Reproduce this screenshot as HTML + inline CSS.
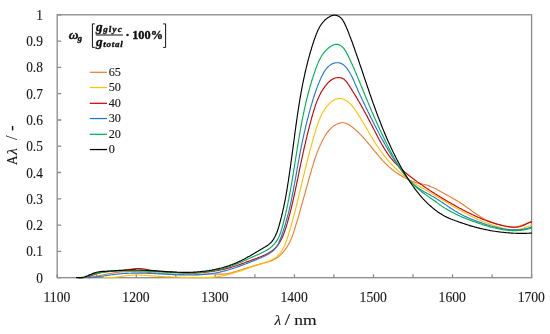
<!DOCTYPE html>
<html><head><meta charset="utf-8"><title>chart</title>
<style>html,body{margin:0;padding:0;background:#fff}body{width:550px;height:334px;position:relative;overflow:hidden}</style>
</head><body>
<svg width="550" height="334" viewBox="0 0 550 334" style="position:absolute;left:0;top:0">
<g fill="none" stroke="#8a8a8a" stroke-width="1.3">
<rect x="57.2" y="14.8" width="474.40000000000003" height="262.9"/>
<path d="M57.2,277.7h4 M57.2,251.4h4 M57.2,225.1h4 M57.2,198.8h4 M57.2,172.5h4 M57.2,146.2h4 M57.2,120.0h4 M57.2,93.7h4 M57.2,67.4h4 M57.2,41.1h4 M57.2,14.8h4 M57.2,277.7v-3.5 M96.7,277.7v-3.5 M136.3,277.7v-3.5 M175.8,277.7v-3.5 M215.3,277.7v-3.5 M254.9,277.7v-3.5 M294.4,277.7v-3.5 M333.9,277.7v-3.5 M373.5,277.7v-3.5 M413.0,277.7v-3.5 M452.5,277.7v-3.5 M492.1,277.7v-3.5 M531.6,277.7v-3.5 "/>
</g>
<g fill="none" stroke-width="1.15" stroke-linejoin="round" stroke-linecap="round">
<path stroke="#ED7D31" d="M86.0,277.6 L86.7,277.6 L87.4,277.5 L88.1,277.4 L88.8,277.4 L89.5,277.3 L90.3,277.2 L91.0,277.1 L91.7,277.0 L92.4,276.9 L93.1,276.8 L93.8,276.7 L94.5,276.5 L95.2,276.4 L95.9,276.3 L96.6,276.2 L97.3,276.0 L98.0,275.9 L98.7,275.8 L99.4,275.6 L100.1,275.5 L100.8,275.3 L101.6,275.2 L102.3,275.0 L103.0,274.9 L103.7,274.8 L104.4,274.6 L105.1,274.5 L105.8,274.3 L106.5,274.2 L107.2,274.0 L107.9,273.9 L108.7,273.8 L109.4,273.6 L110.1,273.5 L110.8,273.4 L111.5,273.2 L112.2,273.1 L112.9,273.0 L113.6,272.9 L114.4,272.8 L115.1,272.6 L115.8,272.5 L116.5,272.4 L117.2,272.3 L117.9,272.3 L118.6,272.2 L119.3,272.1 L120.1,272.0 L120.8,272.0 L121.5,271.9 L122.2,271.8 L122.9,271.8 L123.6,271.7 L124.3,271.7 L125.1,271.7 L125.8,271.6 L126.5,271.6 L127.2,271.6 L127.9,271.6 L128.6,271.6 L129.3,271.5 L130.1,271.5 L130.8,271.5 L131.5,271.5 L132.2,271.6 L132.9,271.6 L133.6,271.6 L134.3,271.6 L135.1,271.6 L135.8,271.6 L136.5,271.7 L137.2,271.7 L137.9,271.7 L138.6,271.8 L139.4,271.8 L140.1,271.8 L140.8,271.9 L141.5,271.9 L142.2,272.0 L142.9,272.0 L143.7,272.1 L144.4,272.1 L145.1,272.2 L145.8,272.2 L146.5,272.3 L147.2,272.3 L148.0,272.4 L148.7,272.5 L149.4,272.5 L150.1,272.6 L150.8,272.6 L151.5,272.7 L152.3,272.8 L153.0,272.8 L153.7,272.9 L154.4,272.9 L155.1,273.0 L155.8,273.1 L156.6,273.1 L157.3,273.2 L158.0,273.2 L158.7,273.3 L159.4,273.4 L160.1,273.4 L160.9,273.5 L161.6,273.5 L162.3,273.6 L163.0,273.6 L163.7,273.7 L164.4,273.7 L165.2,273.8 L165.9,273.8 L166.6,273.9 L167.3,273.9 L168.0,273.9 L168.7,274.0 L169.5,274.0 L170.2,274.0 L170.9,274.1 L171.6,274.1 L172.3,274.1 L173.1,274.1 L173.8,274.2 L174.5,274.2 L175.2,274.2 L175.9,274.2 L176.6,274.2 L177.4,274.2 L178.1,274.2 L178.8,274.2 L179.5,274.2 L180.2,274.2 L181.0,274.3 L181.7,274.3 L182.4,274.3 L183.1,274.3 L183.8,274.3 L184.5,274.2 L185.3,274.2 L186.0,274.2 L186.7,274.2 L187.4,274.2 L188.1,274.2 L188.8,274.2 L189.6,274.2 L190.3,274.2 L191.0,274.2 L191.7,274.2 L192.4,274.2 L193.2,274.2 L193.9,274.1 L194.6,274.1 L195.3,274.1 L196.0,274.1 L196.7,274.1 L197.5,274.1 L198.2,274.1 L198.9,274.1 L199.6,274.1 L200.3,274.0 L201.1,274.0 L201.8,274.0 L202.5,274.0 L203.2,274.0 L203.9,274.0 L204.6,274.0 L205.4,274.0 L206.1,274.0 L206.8,274.0 L207.5,274.0 L208.2,274.0 L208.9,274.0 L209.7,274.0 L210.4,274.0 L211.1,274.0 L211.8,274.0 L212.5,274.0 L213.3,274.0 L214.0,274.0 L214.7,274.0 L215.4,274.0 L216.1,274.1 L216.8,274.1 L217.6,274.1 L218.3,274.1 L219.0,274.1 L219.7,274.1 L220.4,274.1 L221.1,274.1 L221.8,274.1 L222.6,274.1 L223.3,274.1 L224.0,274.0 L224.7,274.0 L225.4,273.9 L226.1,273.9 L226.8,273.8 L227.5,273.7 L228.2,273.5 L228.9,273.4 L229.6,273.3 L230.3,273.1 L231.0,272.9 L231.7,272.7 L232.4,272.5 L233.0,272.3 L233.7,272.1 L234.4,271.9 L235.1,271.7 L235.8,271.5 L236.5,271.2 L237.2,271.0 L237.9,270.8 L238.5,270.6 L239.2,270.4 L239.9,270.2 L240.6,270.0 L241.3,269.7 L242.0,269.5 L242.6,269.3 L243.3,269.1 L244.0,268.9 L244.7,268.7 L245.4,268.4 L246.1,268.2 L246.8,268.0 L247.4,267.8 L248.1,267.6 L248.8,267.4 L249.5,267.2 L250.2,267.0 L250.9,266.8 L251.6,266.5 L252.2,266.3 L252.9,266.1 L253.6,265.9 L254.3,265.7 L255.0,265.5 L255.7,265.3 L256.4,265.1 L257.1,264.9 L257.8,264.7 L258.5,264.5 L259.1,264.3 L259.8,264.1 L260.5,263.9 L261.2,263.7 L261.9,263.6 L262.6,263.4 L263.3,263.2 L264.0,263.0 L264.7,262.8 L265.4,262.6 L266.1,262.4 L266.8,262.2 L267.5,262.0 L268.2,261.8 L268.9,261.6 L269.6,261.4 L270.2,261.1 L270.9,260.9 L271.6,260.6 L272.2,260.4 L272.9,260.1 L273.5,259.8 L274.1,259.5 L274.8,259.1 L275.4,258.8 L276.0,258.4 L276.6,258.0 L277.2,257.6 L277.8,257.2 L278.3,256.8 L278.9,256.4 L279.4,255.9 L280.0,255.4 L280.5,254.9 L281.0,254.4 L281.6,253.9 L282.1,253.4 L282.5,252.9 L283.0,252.3 L283.5,251.8 L284.0,251.2 L284.4,250.6 L284.9,250.0 L285.3,249.4 L285.7,248.8 L286.2,248.2 L286.6,247.6 L287.0,247.0 L287.3,246.4 L287.7,245.8 L288.1,245.1 L288.4,244.5 L288.8,243.9 L289.1,243.2 L289.5,242.6 L289.8,241.9 L290.1,241.3 L290.4,240.6 L290.7,240.0 L291.0,239.3 L291.3,238.7 L291.5,238.0 L291.8,237.4 L292.1,236.7 L292.3,236.0 L292.6,235.4 L292.8,234.7 L293.0,234.0 L293.3,233.4 L293.5,232.7 L293.7,232.0 L294.0,231.3 L294.2,230.7 L294.4,230.0 L294.6,229.3 L294.8,228.6 L295.0,227.9 L295.2,227.3 L295.4,226.6 L295.6,225.9 L295.8,225.2 L296.0,224.5 L296.2,223.8 L296.4,223.2 L296.7,222.5 L296.9,221.8 L297.1,221.1 L297.3,220.4 L297.5,219.7 L297.7,219.0 L297.9,218.3 L298.1,217.7 L298.3,217.0 L298.5,216.3 L298.7,215.6 L298.9,214.9 L299.1,214.2 L299.3,213.5 L299.5,212.8 L299.7,212.1 L299.9,211.4 L300.1,210.7 L300.3,210.1 L300.5,209.4 L300.6,208.7 L300.8,208.0 L301.0,207.3 L301.2,206.6 L301.4,205.9 L301.6,205.2 L301.8,204.5 L302.0,203.8 L302.2,203.1 L302.4,202.4 L302.6,201.7 L302.8,201.0 L303.0,200.3 L303.2,199.6 L303.4,198.9 L303.6,198.2 L303.8,197.5 L304.0,196.9 L304.2,196.2 L304.4,195.5 L304.6,194.8 L304.8,194.1 L305.0,193.4 L305.1,192.7 L305.3,192.0 L305.5,191.3 L305.7,190.6 L305.9,189.9 L306.1,189.2 L306.3,188.5 L306.5,187.8 L306.7,187.1 L306.9,186.4 L307.1,185.7 L307.3,185.0 L307.5,184.3 L307.7,183.7 L307.9,183.0 L308.1,182.3 L308.2,181.6 L308.4,180.9 L308.6,180.2 L308.8,179.5 L309.0,178.8 L309.2,178.1 L309.4,177.4 L309.6,176.7 L309.8,176.0 L310.0,175.4 L310.2,174.7 L310.4,174.0 L310.6,173.3 L310.8,172.6 L311.0,171.9 L311.2,171.2 L311.4,170.5 L311.5,169.9 L311.7,169.2 L311.9,168.5 L312.1,167.8 L312.3,167.1 L312.5,166.4 L312.8,165.7 L313.0,165.1 L313.2,164.4 L313.4,163.7 L313.6,163.0 L313.8,162.3 L314.0,161.7 L314.2,161.0 L314.4,160.3 L314.7,159.6 L314.9,158.9 L315.1,158.3 L315.3,157.6 L315.6,156.9 L315.8,156.2 L316.0,155.6 L316.3,154.9 L316.5,154.2 L316.8,153.6 L317.0,152.9 L317.3,152.2 L317.5,151.5 L317.8,150.9 L318.1,150.2 L318.3,149.5 L318.6,148.9 L318.9,148.2 L319.2,147.5 L319.5,146.9 L319.8,146.2 L320.0,145.6 L320.3,144.9 L320.7,144.2 L321.0,143.6 L321.3,142.9 L321.6,142.3 L321.9,141.6 L322.3,141.0 L322.6,140.3 L322.9,139.6 L323.3,139.0 L323.6,138.3 L324.0,137.7 L324.4,137.0 L324.7,136.4 L325.1,135.8 L325.5,135.1 L325.9,134.5 L326.3,133.9 L326.7,133.3 L327.2,132.7 L327.6,132.1 L328.0,131.5 L328.5,131.0 L328.9,130.4 L329.4,129.9 L329.9,129.3 L330.4,128.8 L330.9,128.3 L331.4,127.8 L331.9,127.3 L332.5,126.9 L333.0,126.5 L333.6,126.0 L334.2,125.6 L334.8,125.2 L335.4,124.9 L336.0,124.5 L336.7,124.2 L337.3,123.9 L338.0,123.7 L338.6,123.4 L339.3,123.2 L340.0,123.0 L340.7,122.9 L341.4,122.8 L342.1,122.7 L342.8,122.7 L343.5,122.8 L344.1,122.9 L344.8,123.0 L345.5,123.2 L346.1,123.4 L346.8,123.7 L347.4,124.0 L348.0,124.3 L348.7,124.6 L349.3,125.0 L349.9,125.4 L350.5,125.8 L351.1,126.2 L351.7,126.7 L352.3,127.1 L352.9,127.5 L353.4,128.0 L354.0,128.4 L354.5,128.9 L355.1,129.4 L355.6,129.9 L356.2,130.3 L356.7,130.8 L357.2,131.3 L357.8,131.8 L358.3,132.3 L358.8,132.8 L359.3,133.3 L359.8,133.8 L360.3,134.4 L360.8,134.9 L361.3,135.4 L361.8,135.9 L362.3,136.4 L362.8,137.0 L363.3,137.5 L363.8,138.0 L364.2,138.6 L364.7,139.1 L365.2,139.7 L365.7,140.2 L366.1,140.8 L366.6,141.3 L367.1,141.9 L367.5,142.4 L368.0,143.0 L368.5,143.5 L368.9,144.1 L369.4,144.6 L369.8,145.2 L370.3,145.7 L370.8,146.3 L371.2,146.8 L371.7,147.4 L372.1,148.0 L372.6,148.5 L373.0,149.1 L373.5,149.6 L373.9,150.2 L374.4,150.8 L374.9,151.3 L375.3,151.9 L375.8,152.4 L376.2,153.0 L376.7,153.5 L377.1,154.1 L377.6,154.6 L378.1,155.2 L378.5,155.7 L379.0,156.3 L379.5,156.8 L379.9,157.4 L380.4,157.9 L380.9,158.4 L381.4,159.0 L381.8,159.5 L382.3,160.0 L382.8,160.6 L383.3,161.1 L383.8,161.6 L384.3,162.1 L384.7,162.6 L385.2,163.2 L385.7,163.7 L386.2,164.2 L386.7,164.7 L387.3,165.2 L387.8,165.7 L388.3,166.1 L388.8,166.6 L389.3,167.1 L389.9,167.6 L390.4,168.1 L390.9,168.5 L391.5,169.0 L392.0,169.4 L392.6,169.9 L393.1,170.3 L393.7,170.8 L394.3,171.2 L394.8,171.6 L395.4,172.1 L396.0,172.5 L396.6,172.9 L397.2,173.3 L397.8,173.7 L398.4,174.1 L399.0,174.5 L399.6,174.9 L400.3,175.2 L400.9,175.6 L401.5,176.0 L402.2,176.3 L402.8,176.7 L403.5,177.0 L404.1,177.4 L404.7,177.7 L405.4,178.0 L406.0,178.4 L406.7,178.7 L407.3,179.0 L408.0,179.3 L408.6,179.6 L409.3,180.0 L409.9,180.3 L410.6,180.5 L411.3,180.8 L411.9,181.1 L412.6,181.4 L413.2,181.6 L413.9,181.9 L414.6,182.1 L415.3,182.4 L415.9,182.6 L416.6,182.8 L417.3,183.0 L418.0,183.1 L418.7,183.3 L419.4,183.5 L420.1,183.6 L420.8,183.7 L421.5,183.9 L422.2,184.0 L422.9,184.2 L423.6,184.3 L424.3,184.5 L425.0,184.6 L425.7,184.8 L426.4,185.0 L427.1,185.2 L427.8,185.4 L428.5,185.6 L429.1,185.9 L429.8,186.1 L430.5,186.4 L431.1,186.7 L431.8,187.0 L432.4,187.2 L433.1,187.5 L433.7,187.8 L434.4,188.2 L435.0,188.5 L435.7,188.8 L436.3,189.1 L436.9,189.5 L437.6,189.8 L438.2,190.2 L438.8,190.5 L439.4,190.8 L440.1,191.2 L440.7,191.5 L441.3,191.9 L442.0,192.3 L442.6,192.6 L443.2,193.0 L443.8,193.3 L444.5,193.7 L445.1,194.0 L445.7,194.4 L446.4,194.7 L447.0,195.1 L447.6,195.4 L448.2,195.7 L448.9,196.1 L449.5,196.4 L450.1,196.8 L450.7,197.1 L451.4,197.5 L452.0,197.8 L452.6,198.2 L453.2,198.6 L453.9,198.9 L454.5,199.3 L455.1,199.6 L455.7,200.0 L456.3,200.4 L457.0,200.7 L457.6,201.1 L458.2,201.5 L458.8,201.8 L459.4,202.2 L460.0,202.6 L460.6,203.0 L461.2,203.4 L461.8,203.8 L462.4,204.2 L463.0,204.6 L463.6,205.0 L464.2,205.4 L464.8,205.8 L465.4,206.2 L466.0,206.7 L466.6,207.1 L467.2,207.5 L467.7,207.9 L468.3,208.3 L468.9,208.8 L469.5,209.2 L470.1,209.6 L470.7,210.0 L471.3,210.5 L471.8,210.9 L472.4,211.3 L473.0,211.7 L473.6,212.2 L474.2,212.6 L474.8,213.0 L475.4,213.4 L476.0,213.8 L476.6,214.2 L477.2,214.6 L477.8,215.0 L478.4,215.4 L479.0,215.8 L479.6,216.2 L480.2,216.6 L480.8,216.9 L481.4,217.3 L482.0,217.7 L482.6,218.0 L483.2,218.4 L483.8,218.7 L484.5,219.0 L485.1,219.4 L485.7,219.7 L486.4,220.0 L487.0,220.3 L487.7,220.6 L488.3,220.9 L489.0,221.2 L489.6,221.4 L490.3,221.7 L490.9,222.0 L491.6,222.2 L492.3,222.5 L492.9,222.7 L493.6,223.0 L494.3,223.2 L495.0,223.4 L495.6,223.7 L496.3,223.9 L497.0,224.1 L497.7,224.3 L498.4,224.5 L499.1,224.7 L499.8,224.9 L500.5,225.1 L501.2,225.3 L501.9,225.5 L502.7,225.7 L503.4,225.8 L504.1,226.0 L504.8,226.1 L505.5,226.3 L506.2,226.4 L507.0,226.5 L507.7,226.7 L508.4,226.8 L509.1,226.8 L509.8,226.9 L510.5,227.0 L511.3,227.0 L512.0,227.0 L512.7,227.0 L513.4,227.0 L514.1,227.0 L514.8,226.9 L515.5,226.8 L516.2,226.7 L516.9,226.6 L517.6,226.5 L518.3,226.3 L518.9,226.2 L519.6,226.0 L520.3,225.8 L521.0,225.6 L521.7,225.4 L522.3,225.1 L523.0,224.9 L523.7,224.6 L524.3,224.4 L525.0,224.1 L525.7,223.8 L526.3,223.5 L527.0,223.3 L527.6,223.0 L528.3,222.7 L529.0,222.4 L529.6,222.0 L530.3,221.7 L530.9,221.4 L531.6,221.1"/>
<path stroke="#FFC000" d="M104.0,277.6 L104.8,277.6 L105.5,277.6 L106.3,277.6 L107.0,277.6 L107.7,277.6 L108.5,277.6 L109.2,277.6 L110.0,277.6 L110.7,277.6 L111.5,277.6 L112.2,277.6 L113.0,277.6 L113.7,277.5 L114.4,277.4 L115.2,277.3 L115.9,277.2 L116.7,277.1 L117.4,277.0 L118.1,276.9 L118.9,276.8 L119.6,276.7 L120.4,276.6 L121.1,276.5 L121.8,276.4 L122.6,276.3 L123.3,276.1 L124.1,276.0 L124.8,275.9 L125.5,275.8 L126.3,275.7 L127.0,275.6 L127.8,275.5 L128.5,275.4 L129.2,275.3 L130.0,275.3 L130.7,275.2 L131.5,275.2 L132.2,275.1 L132.9,275.1 L133.7,275.0 L134.4,275.0 L135.2,275.0 L135.9,275.0 L136.7,275.0 L137.4,275.0 L138.2,275.0 L138.9,275.0 L139.7,275.0 L140.4,275.1 L141.1,275.1 L141.9,275.1 L142.6,275.2 L143.4,275.2 L144.1,275.3 L144.9,275.3 L145.6,275.4 L146.4,275.4 L147.1,275.5 L147.9,275.5 L148.6,275.6 L149.4,275.7 L150.1,275.7 L150.9,275.8 L151.6,275.8 L152.4,275.9 L153.1,276.0 L153.9,276.0 L154.6,276.1 L155.3,276.1 L156.1,276.2 L156.8,276.2 L157.6,276.3 L158.3,276.3 L159.1,276.4 L159.8,276.4 L160.6,276.5 L161.3,276.5 L162.0,276.6 L162.8,276.6 L163.5,276.6 L164.3,276.7 L165.0,276.7 L165.8,276.7 L166.5,276.8 L167.2,276.8 L168.0,276.8 L168.7,276.9 L169.5,276.9 L170.2,276.9 L171.0,276.9 L171.7,277.0 L172.4,277.0 L173.2,277.0 L173.9,277.0 L174.7,277.1 L175.4,277.1 L176.2,277.1 L176.9,277.1 L177.7,277.2 L178.4,277.2 L179.1,277.2 L179.9,277.2 L180.6,277.3 L181.4,277.3 L182.1,277.3 L182.9,277.4 L183.6,277.4 L184.4,277.4 L185.1,277.4 L185.9,277.5 L186.6,277.5 L187.4,277.5 L188.1,277.5 L188.9,277.6 L189.6,277.6 L190.4,277.6 L191.1,277.6 L191.9,277.6 L192.6,277.6 L193.4,277.6 L194.1,277.6 L194.9,277.6 L195.6,277.6 L196.4,277.6 L197.1,277.6 L197.9,277.6 L198.6,277.6 L199.4,277.6 L200.1,277.6 L200.9,277.6 L201.6,277.6 L202.4,277.6 L203.1,277.6 L203.9,277.6 L204.6,277.6 L205.4,277.6 L206.1,277.6 L206.8,277.6 L207.6,277.6 L208.3,277.5 L209.1,277.5 L209.8,277.4 L210.6,277.4 L211.3,277.3 L212.1,277.3 L212.8,277.2 L213.5,277.1 L214.3,277.1 L215.0,277.0 L215.8,276.9 L216.5,276.8 L217.2,276.7 L218.0,276.6 L218.7,276.5 L219.4,276.4 L220.2,276.3 L220.9,276.1 L221.6,276.0 L222.4,275.9 L223.1,275.7 L223.8,275.6 L224.6,275.4 L225.3,275.2 L226.0,275.1 L226.7,274.9 L227.5,274.7 L228.2,274.5 L228.9,274.3 L229.6,274.2 L230.4,274.0 L231.1,273.8 L231.8,273.6 L232.5,273.3 L233.2,273.1 L234.0,272.9 L234.7,272.7 L235.4,272.5 L236.1,272.3 L236.8,272.0 L237.5,271.8 L238.2,271.6 L238.9,271.3 L239.7,271.1 L240.4,270.9 L241.1,270.6 L241.8,270.4 L242.5,270.1 L243.2,269.9 L243.9,269.7 L244.6,269.4 L245.3,269.2 L246.0,268.9 L246.7,268.7 L247.4,268.5 L248.1,268.2 L248.8,268.0 L249.5,267.7 L250.2,267.5 L250.9,267.3 L251.6,267.0 L252.3,266.8 L253.0,266.5 L253.7,266.3 L254.4,266.1 L255.1,265.8 L255.8,265.6 L256.5,265.4 L257.2,265.1 L257.9,264.9 L258.6,264.6 L259.4,264.4 L260.1,264.2 L260.8,263.9 L261.5,263.7 L262.2,263.5 L263.0,263.2 L263.7,263.0 L264.4,262.7 L265.1,262.5 L265.9,262.2 L266.6,262.0 L267.3,261.7 L268.0,261.4 L268.7,261.2 L269.5,260.9 L270.1,260.6 L270.8,260.3 L271.5,260.0 L272.2,259.6 L272.8,259.3 L273.5,258.9 L274.1,258.6 L274.7,258.2 L275.3,257.8 L275.9,257.4 L276.5,256.9 L277.0,256.4 L277.5,256.0 L278.0,255.5 L278.5,255.0 L279.0,254.4 L279.5,253.9 L279.9,253.3 L280.4,252.8 L280.8,252.2 L281.2,251.6 L281.6,251.0 L282.0,250.4 L282.4,249.8 L282.7,249.1 L283.1,248.5 L283.4,247.8 L283.7,247.1 L284.1,246.5 L284.4,245.8 L284.7,245.1 L285.0,244.4 L285.3,243.7 L285.5,243.0 L285.8,242.3 L286.1,241.5 L286.4,240.8 L286.6,240.1 L286.9,239.4 L287.1,238.6 L287.4,237.9 L287.6,237.2 L287.8,236.4 L288.1,235.7 L288.3,235.0 L288.5,234.2 L288.8,233.5 L289.0,232.8 L289.2,232.0 L289.4,231.3 L289.6,230.6 L289.9,229.8 L290.1,229.1 L290.3,228.4 L290.5,227.6 L290.7,226.9 L290.9,226.2 L291.2,225.5 L291.4,224.7 L291.6,224.0 L291.8,223.3 L292.0,222.6 L292.2,221.8 L292.4,221.1 L292.6,220.4 L292.8,219.7 L293.0,218.9 L293.2,218.2 L293.4,217.5 L293.6,216.8 L293.8,216.0 L293.9,215.3 L294.1,214.6 L294.3,213.9 L294.5,213.2 L294.7,212.4 L294.9,211.7 L295.1,211.0 L295.3,210.3 L295.4,209.6 L295.6,208.8 L295.8,208.1 L296.0,207.4 L296.2,206.7 L296.3,206.0 L296.5,205.2 L296.7,204.5 L296.9,203.8 L297.1,203.1 L297.2,202.4 L297.4,201.6 L297.6,200.9 L297.8,200.2 L297.9,199.5 L298.1,198.8 L298.3,198.0 L298.5,197.3 L298.6,196.6 L298.8,195.9 L299.0,195.2 L299.2,194.4 L299.3,193.7 L299.5,193.0 L299.7,192.3 L299.8,191.6 L300.0,190.8 L300.2,190.1 L300.4,189.4 L300.5,188.7 L300.7,188.0 L300.9,187.2 L301.1,186.5 L301.2,185.8 L301.4,185.1 L301.6,184.3 L301.7,183.6 L301.9,182.9 L302.1,182.2 L302.3,181.5 L302.4,180.7 L302.6,180.0 L302.8,179.3 L303.0,178.6 L303.1,177.8 L303.3,177.1 L303.5,176.4 L303.7,175.7 L303.8,174.9 L304.0,174.2 L304.2,173.5 L304.4,172.8 L304.5,172.0 L304.7,171.3 L304.9,170.6 L305.1,169.9 L305.2,169.1 L305.4,168.4 L305.6,167.7 L305.8,167.0 L306.0,166.2 L306.1,165.5 L306.3,164.8 L306.5,164.1 L306.7,163.3 L306.9,162.6 L307.0,161.9 L307.2,161.2 L307.4,160.5 L307.6,159.7 L307.8,159.0 L308.0,158.3 L308.2,157.6 L308.3,156.8 L308.5,156.1 L308.7,155.4 L308.9,154.7 L309.1,153.9 L309.3,153.2 L309.5,152.5 L309.7,151.8 L309.9,151.0 L310.0,150.3 L310.2,149.6 L310.4,148.9 L310.6,148.2 L310.8,147.4 L311.0,146.7 L311.2,146.0 L311.4,145.3 L311.6,144.5 L311.8,143.8 L312.0,143.1 L312.2,142.4 L312.4,141.7 L312.6,140.9 L312.8,140.2 L313.0,139.5 L313.2,138.8 L313.4,138.1 L313.6,137.3 L313.9,136.6 L314.1,135.9 L314.3,135.2 L314.5,134.5 L314.7,133.7 L314.9,133.0 L315.1,132.3 L315.3,131.6 L315.6,130.9 L315.8,130.2 L316.0,129.5 L316.2,128.7 L316.4,128.0 L316.7,127.3 L316.9,126.6 L317.1,125.9 L317.4,125.2 L317.6,124.5 L317.8,123.8 L318.1,123.1 L318.3,122.4 L318.6,121.6 L318.8,121.0 L319.1,120.3 L319.4,119.6 L319.7,118.9 L320.0,118.2 L320.2,117.5 L320.5,116.8 L320.9,116.1 L321.2,115.5 L321.5,114.8 L321.8,114.1 L322.2,113.5 L322.5,112.8 L322.9,112.2 L323.3,111.5 L323.7,110.9 L324.1,110.2 L324.5,109.6 L324.9,109.0 L325.3,108.4 L325.8,107.7 L326.2,107.1 L326.7,106.5 L327.2,105.9 L327.7,105.4 L328.2,104.8 L328.8,104.2 L329.3,103.6 L329.9,103.1 L330.4,102.6 L331.0,102.1 L331.6,101.6 L332.2,101.1 L332.9,100.7 L333.5,100.3 L334.1,99.9 L334.8,99.6 L335.4,99.3 L336.1,99.0 L336.8,98.8 L337.4,98.7 L338.1,98.6 L338.8,98.5 L339.5,98.5 L340.2,98.5 L340.9,98.5 L341.6,98.7 L342.3,98.8 L343.0,99.0 L343.6,99.3 L344.3,99.5 L345.0,99.9 L345.6,100.2 L346.2,100.6 L346.9,101.0 L347.5,101.4 L348.1,101.9 L348.6,102.4 L349.2,102.9 L349.8,103.4 L350.3,103.9 L350.8,104.4 L351.4,105.0 L351.9,105.6 L352.3,106.1 L352.8,106.7 L353.3,107.3 L353.8,107.9 L354.2,108.5 L354.7,109.1 L355.1,109.7 L355.5,110.3 L356.0,111.0 L356.4,111.6 L356.8,112.2 L357.2,112.9 L357.6,113.5 L358.0,114.1 L358.4,114.8 L358.8,115.4 L359.2,116.1 L359.6,116.7 L360.0,117.4 L360.4,118.0 L360.8,118.7 L361.2,119.3 L361.6,120.0 L361.9,120.6 L362.3,121.3 L362.7,121.9 L363.1,122.6 L363.5,123.2 L363.9,123.9 L364.3,124.5 L364.6,125.2 L365.0,125.8 L365.4,126.5 L365.8,127.1 L366.2,127.8 L366.5,128.4 L366.9,129.0 L367.3,129.7 L367.7,130.3 L368.1,131.0 L368.4,131.6 L368.8,132.3 L369.2,132.9 L369.6,133.6 L370.0,134.2 L370.3,134.8 L370.7,135.5 L371.1,136.1 L371.5,136.8 L371.9,137.4 L372.3,138.0 L372.7,138.7 L373.0,139.3 L373.4,139.9 L373.8,140.6 L374.2,141.2 L374.6,141.8 L375.0,142.5 L375.4,143.1 L375.8,143.7 L376.2,144.3 L376.6,145.0 L377.0,145.6 L377.4,146.2 L377.8,146.8 L378.2,147.4 L378.7,148.0 L379.1,148.7 L379.5,149.3 L379.9,149.9 L380.3,150.5 L380.8,151.1 L381.2,151.7 L381.6,152.3 L382.1,152.9 L382.5,153.5 L383.0,154.1 L383.4,154.7 L383.8,155.2 L384.3,155.8 L384.8,156.4 L385.2,157.0 L385.7,157.6 L386.1,158.1 L386.6,158.7 L387.1,159.3 L387.6,159.9 L388.1,160.4 L388.5,161.0 L389.0,161.5 L389.5,162.1 L390.0,162.6 L390.5,163.2 L391.0,163.7 L391.5,164.3 L392.1,164.8 L392.6,165.4 L393.1,165.9 L393.6,166.4 L394.2,167.0 L394.7,167.5 L395.3,168.0 L395.8,168.5 L396.3,169.0 L396.9,169.6 L397.4,170.1 L398.0,170.6 L398.5,171.1 L399.1,171.6 L399.7,172.1 L400.2,172.6 L400.8,173.1 L401.3,173.6 L401.9,174.1 L402.5,174.6 L403.0,175.1 L403.6,175.6 L404.1,176.0 L404.7,176.5 L405.3,177.0 L405.9,177.4 L406.4,177.9 L407.0,178.4 L407.6,178.8 L408.2,179.2 L408.8,179.7 L409.4,180.1 L410.0,180.5 L410.6,180.9 L411.2,181.4 L411.9,181.8 L412.5,182.2 L413.1,182.6 L413.7,183.0 L414.4,183.4 L415.0,183.7 L415.6,184.1 L416.3,184.5 L416.9,184.9 L417.6,185.3 L418.2,185.6 L418.9,186.0 L419.5,186.4 L420.1,186.8 L420.8,187.1 L421.4,187.5 L422.1,187.9 L422.7,188.2 L423.4,188.6 L424.0,189.0 L424.7,189.4 L425.3,189.7 L426.0,190.1 L426.6,190.5 L427.3,190.8 L427.9,191.2 L428.6,191.6 L429.2,192.0 L429.8,192.4 L430.5,192.7 L431.1,193.1 L431.8,193.5 L432.4,193.9 L433.1,194.3 L433.7,194.6 L434.3,195.0 L435.0,195.4 L435.6,195.8 L436.3,196.2 L436.9,196.6 L437.6,196.9 L438.2,197.3 L438.8,197.7 L439.5,198.1 L440.1,198.5 L440.8,198.9 L441.4,199.3 L442.0,199.6 L442.7,200.0 L443.3,200.4 L444.0,200.8 L444.6,201.2 L445.2,201.6 L445.9,201.9 L446.5,202.3 L447.2,202.7 L447.8,203.1 L448.4,203.5 L449.1,203.9 L449.7,204.2 L450.4,204.6 L451.0,205.0 L451.7,205.4 L452.3,205.8 L452.9,206.1 L453.6,206.5 L454.2,206.9 L454.9,207.3 L455.5,207.6 L456.2,208.0 L456.8,208.4 L457.5,208.8 L458.1,209.1 L458.8,209.5 L459.4,209.9 L460.1,210.2 L460.7,210.6 L461.4,211.0 L462.0,211.3 L462.7,211.7 L463.3,212.0 L464.0,212.4 L464.6,212.8 L465.3,213.1 L465.9,213.5 L466.6,213.8 L467.3,214.2 L467.9,214.5 L468.6,214.9 L469.2,215.2 L469.9,215.5 L470.6,215.9 L471.2,216.2 L471.9,216.5 L472.6,216.9 L473.2,217.2 L473.9,217.5 L474.6,217.8 L475.3,218.2 L475.9,218.5 L476.6,218.8 L477.3,219.1 L478.0,219.4 L478.6,219.7 L479.3,220.0 L480.0,220.3 L480.7,220.6 L481.4,220.9 L482.1,221.2 L482.7,221.5 L483.4,221.7 L484.1,222.0 L484.8,222.3 L485.5,222.6 L486.2,222.8 L486.9,223.1 L487.6,223.3 L488.3,223.6 L489.0,223.9 L489.7,224.1 L490.4,224.3 L491.1,224.6 L491.9,224.8 L492.6,225.1 L493.3,225.3 L494.0,225.5 L494.7,225.8 L495.4,226.0 L496.1,226.2 L496.9,226.4 L497.6,226.6 L498.3,226.9 L499.0,227.1 L499.7,227.3 L500.5,227.5 L501.2,227.7 L501.9,227.9 L502.6,228.1 L503.4,228.3 L504.1,228.5 L504.8,228.7 L505.6,228.9 L506.3,229.0 L507.0,229.2 L507.8,229.3 L508.5,229.4 L509.2,229.5 L510.0,229.6 L510.7,229.7 L511.4,229.8 L512.1,229.8 L512.9,229.8 L513.6,229.9 L514.3,229.8 L515.1,229.8 L515.8,229.7 L516.5,229.7 L517.3,229.6 L518.0,229.4 L518.7,229.3 L519.5,229.2 L520.2,229.0 L520.9,228.8 L521.6,228.6 L522.4,228.4 L523.1,228.2 L523.8,228.0 L524.5,227.7 L525.2,227.5 L526.0,227.3 L526.7,227.0 L527.4,226.7 L528.1,226.5 L528.8,226.2 L529.5,226.0 L530.2,225.7 L530.9,225.4 L531.6,225.2"/>
<path stroke="#CC0505" d="M79.0,277.6 L79.8,277.6 L80.7,277.6 L81.5,277.6 L82.3,277.6 L83.1,277.6 L83.9,277.6 L84.7,277.5 L85.5,277.4 L86.3,277.2 L87.1,277.0 L87.8,276.8 L88.6,276.6 L89.4,276.3 L90.1,276.1 L90.9,275.8 L91.7,275.5 L92.4,275.2 L93.2,275.0 L94.0,274.7 L94.7,274.4 L95.5,274.1 L96.3,273.8 L97.0,273.6 L97.8,273.3 L98.6,273.1 L99.4,272.9 L100.2,272.7 L100.9,272.5 L101.7,272.4 L102.5,272.2 L103.3,272.1 L104.1,272.0 L104.9,271.9 L105.8,271.8 L106.6,271.7 L107.4,271.6 L108.2,271.5 L109.0,271.4 L109.8,271.4 L110.6,271.3 L111.4,271.3 L112.2,271.2 L113.1,271.2 L113.9,271.1 L114.7,271.1 L115.5,271.0 L116.3,271.0 L117.1,270.9 L117.9,270.9 L118.7,270.8 L119.5,270.7 L120.4,270.7 L121.2,270.6 L122.0,270.5 L122.8,270.4 L123.6,270.3 L124.4,270.2 L125.2,270.1 L126.0,270.0 L126.8,269.9 L127.6,269.8 L128.4,269.7 L129.2,269.5 L130.0,269.4 L130.8,269.3 L131.6,269.2 L132.5,269.0 L133.3,268.9 L134.1,268.8 L134.9,268.7 L135.7,268.6 L136.5,268.5 L137.3,268.5 L138.1,268.5 L138.9,268.5 L139.7,268.5 L140.5,268.6 L141.3,268.7 L142.1,268.8 L142.9,268.9 L143.7,269.0 L144.5,269.1 L145.3,269.3 L146.1,269.4 L146.9,269.6 L147.7,269.7 L148.5,269.9 L149.3,270.0 L150.1,270.1 L151.0,270.3 L151.8,270.4 L152.6,270.5 L153.4,270.6 L154.2,270.7 L155.0,270.8 L155.8,270.9 L156.6,271.0 L157.4,271.1 L158.2,271.1 L159.0,271.2 L159.8,271.3 L160.6,271.4 L161.5,271.4 L162.3,271.5 L163.1,271.6 L163.9,271.6 L164.7,271.7 L165.5,271.7 L166.3,271.8 L167.1,271.8 L167.9,271.9 L168.7,272.0 L169.6,272.0 L170.4,272.1 L171.2,272.1 L172.0,272.2 L172.8,272.2 L173.6,272.3 L174.4,272.3 L175.2,272.4 L176.0,272.4 L176.8,272.5 L177.7,272.5 L178.5,272.5 L179.3,272.6 L180.1,272.6 L180.9,272.7 L181.7,272.7 L182.5,272.7 L183.3,272.8 L184.1,272.8 L185.0,272.8 L185.8,272.8 L186.6,272.8 L187.4,272.8 L188.2,272.9 L189.0,272.9 L189.8,272.9 L190.7,272.9 L191.5,272.9 L192.3,272.9 L193.1,272.8 L193.9,272.8 L194.7,272.8 L195.5,272.8 L196.4,272.8 L197.2,272.7 L198.0,272.7 L198.8,272.6 L199.6,272.6 L200.4,272.6 L201.2,272.5 L202.1,272.5 L202.9,272.4 L203.7,272.3 L204.5,272.3 L205.3,272.2 L206.1,272.1 L206.9,272.0 L207.8,271.9 L208.6,271.9 L209.4,271.8 L210.2,271.7 L211.0,271.6 L211.8,271.4 L212.6,271.3 L213.4,271.2 L214.2,271.1 L215.0,271.0 L215.8,270.8 L216.6,270.7 L217.4,270.6 L218.2,270.4 L219.0,270.3 L219.8,270.1 L220.6,270.0 L221.4,269.8 L222.2,269.6 L223.0,269.4 L223.8,269.3 L224.6,269.1 L225.3,268.9 L226.1,268.7 L226.9,268.5 L227.7,268.3 L228.5,268.1 L229.2,267.9 L230.0,267.7 L230.8,267.4 L231.5,267.2 L232.3,267.0 L233.1,266.7 L233.9,266.5 L234.6,266.2 L235.4,266.0 L236.1,265.7 L236.9,265.5 L237.7,265.2 L238.4,265.0 L239.2,264.7 L240.0,264.4 L240.7,264.2 L241.5,263.9 L242.2,263.6 L243.0,263.3 L243.8,263.1 L244.5,262.8 L245.3,262.5 L246.0,262.2 L246.8,261.9 L247.6,261.6 L248.3,261.4 L249.1,261.1 L249.9,260.8 L250.6,260.5 L251.4,260.2 L252.2,259.9 L253.0,259.6 L253.7,259.3 L254.5,259.1 L255.3,258.8 L256.1,258.5 L256.9,258.2 L257.6,257.9 L258.4,257.6 L259.2,257.3 L260.0,257.0 L260.7,256.7 L261.5,256.4 L262.3,256.1 L263.0,255.7 L263.8,255.4 L264.5,255.1 L265.3,254.7 L266.0,254.4 L266.7,254.0 L267.4,253.7 L268.1,253.3 L268.8,252.9 L269.5,252.5 L270.2,252.1 L270.9,251.6 L271.5,251.2 L272.1,250.7 L272.8,250.3 L273.4,249.8 L274.0,249.3 L274.6,248.7 L275.1,248.2 L275.7,247.7 L276.2,247.1 L276.7,246.5 L277.2,245.9 L277.7,245.3 L278.2,244.6 L278.6,244.0 L279.1,243.3 L279.5,242.7 L279.9,242.0 L280.3,241.3 L280.7,240.5 L281.1,239.8 L281.5,239.1 L281.8,238.4 L282.2,237.6 L282.5,236.8 L282.9,236.1 L283.2,235.3 L283.5,234.5 L283.8,233.7 L284.1,232.9 L284.4,232.1 L284.7,231.3 L284.9,230.5 L285.2,229.7 L285.5,228.9 L285.7,228.1 L286.0,227.3 L286.3,226.5 L286.5,225.7 L286.7,224.9 L287.0,224.0 L287.2,223.2 L287.5,222.4 L287.7,221.6 L287.9,220.8 L288.1,220.0 L288.4,219.2 L288.6,218.4 L288.8,217.6 L289.0,216.8 L289.2,216.0 L289.5,215.2 L289.7,214.4 L289.9,213.6 L290.1,212.8 L290.3,212.0 L290.5,211.2 L290.7,210.4 L290.9,209.7 L291.1,208.9 L291.3,208.1 L291.5,207.3 L291.7,206.5 L291.8,205.7 L292.0,204.9 L292.2,204.1 L292.4,203.4 L292.6,202.6 L292.8,201.8 L292.9,201.0 L293.1,200.2 L293.3,199.4 L293.5,198.7 L293.6,197.9 L293.8,197.1 L294.0,196.3 L294.2,195.5 L294.3,194.7 L294.5,194.0 L294.7,193.2 L294.8,192.4 L295.0,191.6 L295.2,190.8 L295.3,190.1 L295.5,189.3 L295.7,188.5 L295.8,187.7 L296.0,186.9 L296.2,186.2 L296.3,185.4 L296.5,184.6 L296.6,183.8 L296.8,183.0 L297.0,182.3 L297.1,181.5 L297.3,180.7 L297.4,179.9 L297.6,179.1 L297.8,178.3 L297.9,177.6 L298.1,176.8 L298.2,176.0 L298.4,175.2 L298.6,174.4 L298.7,173.6 L298.9,172.8 L299.1,172.0 L299.2,171.3 L299.4,170.5 L299.5,169.7 L299.7,168.9 L299.9,168.1 L300.0,167.3 L300.2,166.5 L300.4,165.7 L300.5,164.9 L300.7,164.1 L300.9,163.3 L301.0,162.5 L301.2,161.7 L301.4,161.0 L301.5,160.2 L301.7,159.4 L301.9,158.6 L302.1,157.8 L302.2,157.0 L302.4,156.2 L302.6,155.4 L302.8,154.6 L302.9,153.8 L303.1,153.0 L303.3,152.2 L303.5,151.4 L303.6,150.6 L303.8,149.8 L304.0,149.0 L304.2,148.2 L304.3,147.4 L304.5,146.6 L304.7,145.8 L304.9,145.0 L305.1,144.2 L305.3,143.4 L305.4,142.6 L305.6,141.8 L305.8,141.0 L306.0,140.2 L306.2,139.4 L306.4,138.6 L306.6,137.8 L306.8,137.0 L307.0,136.2 L307.1,135.5 L307.3,134.7 L307.5,133.9 L307.7,133.1 L307.9,132.3 L308.1,131.5 L308.3,130.7 L308.5,129.9 L308.7,129.1 L308.9,128.3 L309.1,127.5 L309.3,126.7 L309.5,125.9 L309.7,125.1 L309.9,124.4 L310.2,123.6 L310.4,122.8 L310.6,122.0 L310.8,121.2 L311.0,120.4 L311.2,119.6 L311.4,118.8 L311.6,118.1 L311.9,117.3 L312.1,116.5 L312.3,115.7 L312.5,114.9 L312.7,114.1 L313.0,113.4 L313.2,112.6 L313.4,111.8 L313.6,111.0 L313.9,110.3 L314.1,109.5 L314.4,108.7 L314.6,107.9 L314.9,107.2 L315.1,106.4 L315.4,105.6 L315.6,104.9 L315.9,104.1 L316.2,103.4 L316.4,102.6 L316.7,101.9 L317.0,101.1 L317.3,100.4 L317.6,99.6 L317.9,98.9 L318.3,98.1 L318.6,97.4 L318.9,96.7 L319.3,95.9 L319.6,95.2 L320.0,94.5 L320.4,93.8 L320.7,93.1 L321.1,92.4 L321.5,91.7 L321.9,91.0 L322.4,90.3 L322.8,89.6 L323.2,88.9 L323.7,88.2 L324.2,87.6 L324.7,86.9 L325.2,86.2 L325.7,85.6 L326.2,84.9 L326.7,84.3 L327.3,83.6 L327.9,83.0 L328.4,82.4 L329.0,81.8 L329.7,81.3 L330.3,80.7 L330.9,80.2 L331.6,79.7 L332.3,79.3 L333.0,78.9 L333.7,78.6 L334.5,78.3 L335.3,78.0 L336.1,77.8 L336.9,77.7 L337.7,77.6 L338.5,77.6 L339.3,77.6 L340.1,77.7 L340.9,77.8 L341.6,78.1 L342.3,78.3 L343.0,78.7 L343.7,79.1 L344.3,79.5 L344.9,80.1 L345.4,80.6 L346.0,81.2 L346.5,81.8 L347.0,82.4 L347.5,83.1 L347.9,83.8 L348.4,84.5 L348.9,85.2 L349.3,85.9 L349.8,86.6 L350.2,87.3 L350.7,88.0 L351.1,88.7 L351.6,89.4 L352.0,90.1 L352.4,90.8 L352.9,91.5 L353.3,92.2 L353.7,92.9 L354.2,93.6 L354.6,94.3 L355.0,95.0 L355.4,95.7 L355.9,96.4 L356.3,97.1 L356.7,97.8 L357.1,98.5 L357.5,99.2 L357.9,99.9 L358.3,100.6 L358.7,101.3 L359.2,102.0 L359.6,102.7 L360.0,103.4 L360.4,104.1 L360.8,104.8 L361.2,105.5 L361.6,106.2 L361.9,106.9 L362.3,107.6 L362.7,108.3 L363.1,109.0 L363.5,109.8 L363.9,110.5 L364.3,111.2 L364.7,111.9 L365.1,112.6 L365.4,113.3 L365.8,114.0 L366.2,114.7 L366.6,115.4 L367.0,116.1 L367.4,116.8 L367.7,117.6 L368.1,118.3 L368.5,119.0 L368.9,119.7 L369.2,120.4 L369.6,121.1 L370.0,121.8 L370.4,122.6 L370.8,123.3 L371.1,124.0 L371.5,124.7 L371.9,125.4 L372.3,126.2 L372.6,126.9 L373.0,127.6 L373.4,128.3 L373.7,129.0 L374.1,129.8 L374.5,130.5 L374.9,131.2 L375.2,132.0 L375.6,132.7 L376.0,133.4 L376.4,134.1 L376.8,134.9 L377.1,135.6 L377.5,136.3 L377.9,137.1 L378.3,137.8 L378.7,138.5 L379.0,139.2 L379.4,140.0 L379.8,140.7 L380.2,141.4 L380.6,142.1 L381.0,142.8 L381.4,143.6 L381.8,144.3 L382.2,145.0 L382.6,145.7 L383.1,146.4 L383.5,147.1 L383.9,147.8 L384.3,148.5 L384.7,149.2 L385.2,149.9 L385.6,150.6 L386.1,151.3 L386.5,151.9 L387.0,152.6 L387.4,153.3 L387.9,154.0 L388.3,154.6 L388.8,155.3 L389.3,155.9 L389.8,156.6 L390.3,157.2 L390.8,157.9 L391.3,158.5 L391.8,159.1 L392.3,159.7 L392.8,160.4 L393.3,161.0 L393.9,161.6 L394.4,162.2 L395.0,162.8 L395.5,163.4 L396.1,163.9 L396.6,164.5 L397.2,165.1 L397.8,165.7 L398.3,166.2 L398.9,166.8 L399.5,167.3 L400.1,167.9 L400.7,168.4 L401.3,169.0 L401.9,169.5 L402.5,170.1 L403.1,170.6 L403.7,171.1 L404.3,171.7 L404.9,172.2 L405.6,172.7 L406.2,173.2 L406.8,173.7 L407.4,174.2 L408.1,174.7 L408.7,175.2 L409.3,175.7 L410.0,176.2 L410.6,176.7 L411.3,177.2 L411.9,177.7 L412.6,178.2 L413.2,178.7 L413.9,179.2 L414.5,179.7 L415.2,180.2 L415.8,180.6 L416.5,181.1 L417.1,181.6 L417.8,182.1 L418.5,182.6 L419.1,183.0 L419.8,183.5 L420.5,184.0 L421.1,184.4 L421.8,184.9 L422.5,185.4 L423.1,185.8 L423.8,186.3 L424.5,186.8 L425.1,187.2 L425.8,187.7 L426.5,188.1 L427.2,188.6 L427.8,189.0 L428.5,189.5 L429.2,189.9 L429.9,190.4 L430.5,190.8 L431.2,191.3 L431.9,191.7 L432.6,192.2 L433.3,192.6 L434.0,193.0 L434.7,193.5 L435.3,193.9 L436.0,194.3 L436.7,194.8 L437.4,195.2 L438.1,195.6 L438.8,196.1 L439.5,196.5 L440.2,196.9 L440.9,197.3 L441.6,197.8 L442.3,198.2 L443.0,198.6 L443.6,199.0 L444.3,199.4 L445.0,199.8 L445.7,200.3 L446.4,200.7 L447.1,201.1 L447.8,201.5 L448.5,201.9 L449.2,202.3 L450.0,202.7 L450.7,203.1 L451.4,203.5 L452.1,203.9 L452.8,204.3 L453.5,204.7 L454.2,205.1 L454.9,205.5 L455.6,205.9 L456.3,206.3 L457.0,206.7 L457.7,207.1 L458.4,207.5 L459.1,207.9 L459.9,208.3 L460.6,208.6 L461.3,209.0 L462.0,209.4 L462.7,209.8 L463.4,210.2 L464.2,210.5 L464.9,210.9 L465.6,211.3 L466.3,211.6 L467.0,212.0 L467.8,212.4 L468.5,212.7 L469.2,213.1 L469.9,213.4 L470.7,213.8 L471.4,214.1 L472.1,214.5 L472.9,214.8 L473.6,215.2 L474.3,215.5 L475.1,215.9 L475.8,216.2 L476.5,216.5 L477.3,216.9 L478.0,217.2 L478.8,217.5 L479.5,217.8 L480.3,218.1 L481.0,218.4 L481.8,218.8 L482.5,219.1 L483.3,219.4 L484.0,219.7 L484.8,220.0 L485.6,220.2 L486.3,220.5 L487.1,220.8 L487.8,221.1 L488.6,221.4 L489.4,221.6 L490.1,221.9 L490.9,222.2 L491.7,222.4 L492.5,222.7 L493.2,222.9 L494.0,223.2 L494.8,223.4 L495.6,223.6 L496.4,223.9 L497.1,224.1 L497.9,224.3 L498.7,224.5 L499.5,224.7 L500.3,224.9 L501.1,225.1 L501.9,225.3 L502.7,225.5 L503.5,225.7 L504.3,225.8 L505.1,226.0 L505.9,226.2 L506.7,226.3 L507.5,226.5 L508.3,226.6 L509.1,226.8 L509.9,226.9 L510.7,227.0 L511.5,227.1 L512.3,227.1 L513.1,227.2 L513.9,227.2 L514.7,227.3 L515.5,227.2 L516.3,227.2 L517.1,227.1 L517.9,227.0 L518.7,226.9 L519.5,226.7 L520.3,226.5 L521.0,226.3 L521.8,226.0 L522.6,225.7 L523.3,225.4 L524.1,225.1 L524.8,224.7 L525.6,224.4 L526.3,224.0 L527.1,223.6 L527.8,223.3 L528.6,223.0 L529.3,222.7 L530.1,222.4 L530.8,222.1 L531.6,221.9"/>
<path stroke="#1E7BD3" d="M88.0,277.6 L88.9,277.6 L89.7,277.6 L90.5,277.6 L91.3,277.5 L92.2,277.4 L93.0,277.4 L93.8,277.3 L94.6,277.2 L95.5,277.1 L96.3,277.0 L97.1,276.9 L98.0,276.8 L98.8,276.7 L99.6,276.6 L100.5,276.4 L101.3,276.3 L102.1,276.2 L103.0,276.1 L103.8,276.0 L104.6,275.8 L105.5,275.7 L106.3,275.6 L107.1,275.5 L108.0,275.3 L108.8,275.2 L109.6,275.1 L110.5,275.0 L111.3,274.8 L112.1,274.7 L113.0,274.6 L113.8,274.5 L114.6,274.4 L115.5,274.3 L116.3,274.2 L117.2,274.1 L118.0,274.0 L118.8,273.9 L119.7,273.8 L120.5,273.8 L121.3,273.7 L122.2,273.6 L123.0,273.5 L123.8,273.5 L124.7,273.4 L125.5,273.4 L126.3,273.3 L127.2,273.3 L128.0,273.3 L128.8,273.2 L129.7,273.2 L130.5,273.2 L131.3,273.1 L132.2,273.1 L133.0,273.1 L133.8,273.1 L134.7,273.1 L135.5,273.1 L136.3,273.1 L137.2,273.1 L138.0,273.1 L138.8,273.1 L139.7,273.1 L140.5,273.1 L141.3,273.1 L142.2,273.1 L143.0,273.1 L143.8,273.2 L144.7,273.2 L145.5,273.2 L146.3,273.2 L147.2,273.3 L148.0,273.3 L148.8,273.3 L149.7,273.4 L150.5,273.4 L151.3,273.4 L152.2,273.5 L153.0,273.5 L153.8,273.5 L154.7,273.6 L155.5,273.6 L156.3,273.7 L157.2,273.7 L158.0,273.8 L158.9,273.8 L159.7,273.8 L160.5,273.9 L161.4,273.9 L162.2,274.0 L163.0,274.0 L163.9,274.1 L164.7,274.1 L165.6,274.2 L166.4,274.2 L167.2,274.3 L168.1,274.3 L168.9,274.4 L169.8,274.4 L170.6,274.4 L171.5,274.5 L172.3,274.5 L173.1,274.6 L174.0,274.6 L174.8,274.6 L175.7,274.7 L176.5,274.7 L177.4,274.8 L178.2,274.8 L179.0,274.8 L179.9,274.8 L180.7,274.9 L181.6,274.9 L182.4,274.9 L183.3,274.9 L184.1,275.0 L185.0,275.0 L185.8,275.0 L186.6,275.0 L187.5,275.0 L188.3,275.0 L189.2,275.0 L190.0,275.0 L190.9,275.0 L191.7,275.0 L192.5,275.0 L193.4,275.0 L194.2,275.0 L195.1,274.9 L195.9,274.9 L196.7,274.9 L197.6,274.8 L198.4,274.8 L199.3,274.8 L200.1,274.7 L200.9,274.7 L201.8,274.6 L202.6,274.6 L203.4,274.5 L204.3,274.4 L205.1,274.3 L205.9,274.3 L206.8,274.2 L207.6,274.1 L208.4,274.0 L209.2,273.9 L210.1,273.8 L210.9,273.7 L211.7,273.6 L212.5,273.4 L213.4,273.3 L214.2,273.2 L215.0,273.0 L215.8,272.9 L216.6,272.7 L217.4,272.6 L218.3,272.4 L219.1,272.2 L219.9,272.1 L220.7,271.9 L221.5,271.7 L222.3,271.5 L223.1,271.3 L223.9,271.1 L224.7,270.9 L225.5,270.7 L226.3,270.4 L227.1,270.2 L227.9,270.0 L228.7,269.8 L229.5,269.5 L230.3,269.3 L231.1,269.0 L231.9,268.8 L232.7,268.5 L233.5,268.3 L234.3,268.0 L235.1,267.7 L235.9,267.5 L236.7,267.2 L237.5,266.9 L238.3,266.6 L239.1,266.4 L239.8,266.1 L240.6,265.8 L241.4,265.5 L242.2,265.2 L243.0,264.9 L243.8,264.6 L244.6,264.3 L245.4,264.0 L246.1,263.7 L246.9,263.4 L247.7,263.1 L248.5,262.8 L249.3,262.5 L250.1,262.2 L250.9,261.8 L251.6,261.5 L252.4,261.2 L253.2,260.9 L254.0,260.6 L254.8,260.3 L255.6,259.9 L256.3,259.6 L257.1,259.3 L257.9,259.0 L258.7,258.6 L259.5,258.3 L260.3,258.0 L261.0,257.7 L261.8,257.3 L262.6,257.0 L263.4,256.7 L264.1,256.3 L264.9,255.9 L265.6,255.6 L266.4,255.2 L267.1,254.8 L267.9,254.4 L268.6,254.0 L269.3,253.5 L270.0,253.1 L270.7,252.6 L271.4,252.1 L272.0,251.6 L272.7,251.1 L273.3,250.6 L273.9,250.0 L274.5,249.4 L275.0,248.8 L275.6,248.2 L276.1,247.5 L276.5,246.9 L277.0,246.2 L277.4,245.5 L277.8,244.7 L278.2,244.0 L278.5,243.2 L278.9,242.5 L279.2,241.7 L279.5,240.9 L279.9,240.1 L280.2,239.3 L280.5,238.5 L280.8,237.7 L281.1,237.0 L281.4,236.2 L281.7,235.4 L282.0,234.6 L282.2,233.8 L282.5,233.0 L282.8,232.2 L283.1,231.4 L283.3,230.6 L283.6,229.8 L283.9,229.0 L284.1,228.2 L284.4,227.4 L284.6,226.6 L284.9,225.8 L285.1,225.0 L285.4,224.2 L285.6,223.4 L285.8,222.6 L286.1,221.8 L286.3,220.9 L286.5,220.1 L286.8,219.3 L287.0,218.5 L287.2,217.7 L287.4,216.9 L287.6,216.1 L287.8,215.3 L288.0,214.5 L288.3,213.7 L288.5,212.9 L288.7,212.0 L288.9,211.2 L289.1,210.4 L289.2,209.6 L289.4,208.8 L289.6,208.0 L289.8,207.2 L290.0,206.4 L290.2,205.5 L290.4,204.7 L290.6,203.9 L290.7,203.1 L290.9,202.3 L291.1,201.5 L291.3,200.6 L291.4,199.8 L291.6,199.0 L291.8,198.2 L291.9,197.4 L292.1,196.5 L292.3,195.7 L292.4,194.9 L292.6,194.1 L292.8,193.3 L292.9,192.4 L293.1,191.6 L293.2,190.8 L293.4,190.0 L293.5,189.2 L293.7,188.3 L293.8,187.5 L294.0,186.7 L294.1,185.9 L294.3,185.0 L294.4,184.2 L294.6,183.4 L294.7,182.6 L294.9,181.7 L295.0,180.9 L295.2,180.1 L295.3,179.3 L295.5,178.4 L295.6,177.6 L295.8,176.8 L295.9,176.0 L296.1,175.1 L296.2,174.3 L296.4,173.5 L296.5,172.7 L296.7,171.8 L296.8,171.0 L296.9,170.2 L297.1,169.4 L297.2,168.5 L297.4,167.7 L297.5,166.9 L297.7,166.0 L297.8,165.2 L298.0,164.4 L298.1,163.6 L298.3,162.7 L298.4,161.9 L298.6,161.1 L298.7,160.3 L298.9,159.4 L299.0,158.6 L299.2,157.8 L299.3,157.0 L299.5,156.1 L299.6,155.3 L299.8,154.5 L300.0,153.6 L300.1,152.8 L300.3,152.0 L300.4,151.2 L300.6,150.3 L300.8,149.5 L300.9,148.7 L301.1,147.9 L301.3,147.0 L301.4,146.2 L301.6,145.4 L301.8,144.6 L301.9,143.7 L302.1,142.9 L302.3,142.1 L302.4,141.3 L302.6,140.4 L302.8,139.6 L303.0,138.8 L303.1,138.0 L303.3,137.2 L303.5,136.3 L303.7,135.5 L303.9,134.7 L304.0,133.9 L304.2,133.1 L304.4,132.2 L304.6,131.4 L304.8,130.6 L305.0,129.8 L305.2,129.0 L305.4,128.1 L305.5,127.3 L305.7,126.5 L305.9,125.7 L306.1,124.9 L306.3,124.1 L306.5,123.3 L306.7,122.4 L306.9,121.6 L307.1,120.8 L307.3,120.0 L307.5,119.2 L307.7,118.4 L308.0,117.6 L308.2,116.8 L308.4,116.0 L308.6,115.2 L308.8,114.4 L309.0,113.5 L309.2,112.7 L309.4,111.9 L309.7,111.1 L309.9,110.3 L310.1,109.5 L310.3,108.7 L310.6,107.9 L310.8,107.1 L311.0,106.3 L311.2,105.5 L311.5,104.7 L311.7,103.9 L311.9,103.1 L312.2,102.4 L312.4,101.6 L312.7,100.8 L312.9,100.0 L313.1,99.2 L313.4,98.4 L313.6,97.6 L313.9,96.8 L314.1,96.0 L314.4,95.3 L314.6,94.5 L314.9,93.7 L315.2,92.9 L315.4,92.1 L315.7,91.3 L316.0,90.5 L316.2,89.8 L316.5,89.0 L316.8,88.2 L317.1,87.4 L317.4,86.6 L317.7,85.8 L318.0,85.0 L318.3,84.2 L318.6,83.4 L319.0,82.7 L319.3,81.9 L319.6,81.1 L320.0,80.3 L320.3,79.5 L320.7,78.7 L321.0,77.9 L321.4,77.1 L321.8,76.3 L322.2,75.5 L322.6,74.7 L323.0,73.9 L323.4,73.1 L323.8,72.4 L324.3,71.6 L324.8,70.9 L325.2,70.2 L325.7,69.5 L326.3,68.8 L326.8,68.2 L327.3,67.6 L327.9,67.0 L328.5,66.4 L329.1,65.9 L329.8,65.4 L330.4,64.9 L331.1,64.5 L331.8,64.1 L332.6,63.7 L333.3,63.4 L334.1,63.2 L334.9,62.9 L335.7,62.8 L336.4,62.7 L337.2,62.7 L338.0,62.7 L338.8,62.8 L339.6,62.9 L340.3,63.2 L341.1,63.4 L341.8,63.8 L342.5,64.2 L343.2,64.6 L343.8,65.1 L344.5,65.7 L345.1,66.3 L345.7,66.9 L346.2,67.5 L346.8,68.2 L347.3,68.9 L347.8,69.6 L348.3,70.3 L348.8,71.0 L349.2,71.8 L349.7,72.5 L350.1,73.3 L350.5,74.0 L351.0,74.8 L351.3,75.5 L351.7,76.3 L352.1,77.0 L352.5,77.8 L352.8,78.6 L353.2,79.3 L353.5,80.1 L353.9,80.9 L354.2,81.6 L354.6,82.4 L354.9,83.2 L355.2,84.0 L355.6,84.7 L355.9,85.5 L356.2,86.3 L356.6,87.0 L356.9,87.8 L357.2,88.6 L357.6,89.4 L357.9,90.1 L358.3,90.9 L358.6,91.7 L358.9,92.4 L359.3,93.2 L359.6,93.9 L360.0,94.7 L360.3,95.5 L360.7,96.2 L361.0,97.0 L361.4,97.8 L361.7,98.5 L362.1,99.3 L362.4,100.0 L362.8,100.8 L363.1,101.5 L363.5,102.3 L363.8,103.1 L364.2,103.8 L364.6,104.6 L364.9,105.3 L365.3,106.1 L365.6,106.8 L366.0,107.6 L366.4,108.3 L366.7,109.1 L367.1,109.8 L367.5,110.6 L367.8,111.3 L368.2,112.1 L368.6,112.8 L368.9,113.6 L369.3,114.3 L369.7,115.1 L370.0,115.9 L370.4,116.6 L370.8,117.4 L371.1,118.1 L371.5,118.8 L371.9,119.6 L372.3,120.3 L372.6,121.1 L373.0,121.8 L373.4,122.6 L373.8,123.3 L374.1,124.1 L374.5,124.8 L374.9,125.6 L375.3,126.3 L375.7,127.1 L376.1,127.8 L376.4,128.6 L376.8,129.3 L377.2,130.0 L377.6,130.8 L378.0,131.5 L378.4,132.3 L378.8,133.0 L379.2,133.8 L379.6,134.5 L379.9,135.2 L380.3,136.0 L380.7,136.7 L381.1,137.4 L381.5,138.2 L381.9,138.9 L382.3,139.7 L382.8,140.4 L383.2,141.1 L383.6,141.9 L384.0,142.6 L384.4,143.3 L384.8,144.0 L385.2,144.8 L385.6,145.5 L386.0,146.2 L386.5,147.0 L386.9,147.7 L387.3,148.4 L387.7,149.1 L388.2,149.9 L388.6,150.6 L389.0,151.3 L389.4,152.0 L389.9,152.7 L390.3,153.5 L390.7,154.2 L391.2,154.9 L391.6,155.6 L392.1,156.3 L392.5,157.0 L393.0,157.7 L393.4,158.5 L393.9,159.2 L394.3,159.9 L394.8,160.6 L395.2,161.3 L395.7,162.0 L396.1,162.7 L396.6,163.4 L397.1,164.1 L397.5,164.8 L398.0,165.5 L398.5,166.2 L399.0,166.9 L399.4,167.6 L399.9,168.3 L400.4,169.0 L400.9,169.6 L401.4,170.3 L401.9,171.0 L402.4,171.7 L402.8,172.4 L403.4,173.0 L403.9,173.7 L404.4,174.4 L404.9,175.0 L405.4,175.7 L405.9,176.3 L406.5,177.0 L407.0,177.6 L407.5,178.2 L408.1,178.9 L408.7,179.5 L409.2,180.1 L409.8,180.7 L410.4,181.3 L410.9,181.9 L411.5,182.5 L412.1,183.0 L412.7,183.6 L413.3,184.2 L414.0,184.7 L414.6,185.2 L415.2,185.8 L415.9,186.3 L416.5,186.8 L417.2,187.3 L417.9,187.8 L418.5,188.3 L419.2,188.7 L419.9,189.2 L420.6,189.6 L421.3,190.1 L422.1,190.5 L422.8,190.9 L423.5,191.4 L424.2,191.8 L425.0,192.2 L425.7,192.6 L426.5,193.0 L427.2,193.4 L428.0,193.8 L428.7,194.2 L429.5,194.6 L430.2,195.0 L430.9,195.4 L431.7,195.9 L432.4,196.3 L433.2,196.7 L433.9,197.1 L434.6,197.5 L435.3,198.0 L436.1,198.4 L436.8,198.9 L437.5,199.3 L438.2,199.8 L438.9,200.2 L439.6,200.7 L440.3,201.1 L441.0,201.6 L441.7,202.1 L442.4,202.5 L443.1,203.0 L443.8,203.5 L444.5,204.0 L445.2,204.4 L445.9,204.9 L446.6,205.4 L447.3,205.8 L447.9,206.3 L448.6,206.8 L449.3,207.2 L450.0,207.7 L450.7,208.2 L451.4,208.6 L452.1,209.1 L452.8,209.5 L453.5,210.0 L454.2,210.4 L454.9,210.9 L455.6,211.3 L456.4,211.7 L457.1,212.1 L457.8,212.5 L458.5,213.0 L459.3,213.4 L460.0,213.8 L460.7,214.1 L461.5,214.5 L462.2,214.9 L463.0,215.3 L463.7,215.7 L464.5,216.0 L465.2,216.4 L466.0,216.7 L466.7,217.1 L467.5,217.4 L468.3,217.8 L469.0,218.1 L469.8,218.4 L470.6,218.8 L471.3,219.1 L472.1,219.4 L472.9,219.7 L473.7,220.0 L474.5,220.3 L475.2,220.6 L476.0,220.9 L476.8,221.2 L477.6,221.5 L478.4,221.8 L479.2,222.1 L480.0,222.4 L480.8,222.6 L481.6,222.9 L482.4,223.2 L483.2,223.5 L484.0,223.7 L484.8,224.0 L485.6,224.3 L486.4,224.5 L487.2,224.8 L488.0,225.0 L488.8,225.3 L489.6,225.5 L490.4,225.8 L491.2,226.0 L492.1,226.2 L492.9,226.5 L493.7,226.7 L494.5,226.9 L495.3,227.1 L496.1,227.3 L496.9,227.5 L497.7,227.7 L498.6,227.9 L499.4,228.1 L500.2,228.3 L501.0,228.4 L501.8,228.6 L502.7,228.7 L503.5,228.9 L504.3,229.0 L505.1,229.1 L505.9,229.3 L506.8,229.4 L507.6,229.5 L508.4,229.6 L509.2,229.6 L510.1,229.7 L510.9,229.8 L511.7,229.8 L512.5,229.9 L513.4,229.9 L514.2,229.9 L515.0,229.9 L515.8,229.9 L516.7,229.9 L517.5,229.8 L518.3,229.8 L519.2,229.7 L520.0,229.7 L520.8,229.6 L521.7,229.5 L522.5,229.4 L523.3,229.2 L524.2,229.1 L525.0,228.9 L525.8,228.8 L526.7,228.6 L527.5,228.4 L528.3,228.2 L529.2,227.9 L530.0,227.7 L530.8,227.4 L531.6,227.1"/>
<path stroke="#00B050" d="M78.0,277.5 L78.9,277.6 L79.8,277.6 L80.7,277.6 L81.6,277.6 L82.5,277.6 L83.4,277.6 L84.3,277.5 L85.1,277.3 L85.9,277.0 L86.8,276.7 L87.6,276.4 L88.4,276.0 L89.2,275.6 L90.0,275.3 L90.9,275.0 L91.7,274.7 L92.5,274.5 L93.4,274.2 L94.2,274.0 L95.1,273.8 L96.0,273.6 L96.8,273.4 L97.7,273.3 L98.6,273.1 L99.5,273.0 L100.3,272.8 L101.2,272.7 L102.1,272.5 L103.0,272.4 L103.8,272.3 L104.7,272.1 L105.6,272.0 L106.5,271.9 L107.3,271.8 L108.2,271.7 L109.1,271.6 L110.0,271.5 L110.9,271.5 L111.7,271.4 L112.6,271.3 L113.5,271.2 L114.4,271.2 L115.3,271.1 L116.1,271.0 L117.0,271.0 L117.9,271.0 L118.8,270.9 L119.7,270.9 L120.6,270.8 L121.5,270.8 L122.3,270.8 L123.2,270.8 L124.1,270.7 L125.0,270.7 L125.9,270.7 L126.8,270.7 L127.7,270.7 L128.5,270.7 L129.4,270.7 L130.3,270.7 L131.2,270.7 L132.1,270.7 L133.0,270.7 L133.9,270.7 L134.8,270.8 L135.7,270.8 L136.6,270.8 L137.5,270.8 L138.3,270.9 L139.2,270.9 L140.1,270.9 L141.0,271.0 L141.9,271.0 L142.8,271.0 L143.7,271.1 L144.6,271.1 L145.5,271.2 L146.4,271.2 L147.3,271.2 L148.2,271.3 L149.1,271.3 L150.0,271.4 L150.9,271.4 L151.7,271.5 L152.6,271.5 L153.5,271.6 L154.4,271.6 L155.3,271.7 L156.2,271.7 L157.1,271.8 L158.0,271.8 L158.9,271.9 L159.8,271.9 L160.7,272.0 L161.6,272.0 L162.5,272.1 L163.4,272.1 L164.3,272.2 L165.2,272.2 L166.1,272.3 L166.9,272.3 L167.8,272.4 L168.7,272.4 L169.6,272.5 L170.5,272.5 L171.4,272.5 L172.3,272.6 L173.2,272.6 L174.1,272.6 L175.0,272.7 L175.9,272.7 L176.8,272.7 L177.7,272.8 L178.5,272.8 L179.4,272.8 L180.3,272.8 L181.2,272.8 L182.1,272.9 L183.0,272.9 L183.9,272.9 L184.8,272.9 L185.7,272.9 L186.5,272.9 L187.4,272.9 L188.3,272.9 L189.2,272.9 L190.1,272.8 L191.0,272.8 L191.9,272.8 L192.7,272.8 L193.6,272.7 L194.5,272.7 L195.4,272.7 L196.3,272.6 L197.1,272.6 L198.0,272.5 L198.9,272.5 L199.8,272.4 L200.7,272.3 L201.5,272.3 L202.4,272.2 L203.3,272.1 L204.2,272.0 L205.0,271.9 L205.9,271.8 L206.8,271.7 L207.7,271.6 L208.5,271.5 L209.4,271.4 L210.3,271.2 L211.2,271.1 L212.0,271.0 L212.9,270.8 L213.8,270.7 L214.6,270.5 L215.5,270.3 L216.4,270.2 L217.2,270.0 L218.1,269.8 L218.9,269.6 L219.8,269.4 L220.7,269.2 L221.5,269.0 L222.4,268.8 L223.2,268.5 L224.1,268.3 L225.0,268.1 L225.8,267.8 L226.7,267.5 L227.5,267.3 L228.4,267.0 L229.2,266.7 L230.1,266.4 L230.9,266.1 L231.8,265.8 L232.6,265.5 L233.5,265.2 L234.3,264.9 L235.1,264.5 L236.0,264.2 L236.8,263.9 L237.7,263.5 L238.5,263.2 L239.3,262.8 L240.2,262.5 L241.0,262.1 L241.8,261.8 L242.7,261.4 L243.5,261.0 L244.3,260.7 L245.1,260.3 L246.0,259.9 L246.8,259.6 L247.6,259.2 L248.4,258.8 L249.2,258.5 L250.0,258.1 L250.8,257.7 L251.6,257.4 L252.4,257.0 L253.2,256.6 L254.0,256.3 L254.8,255.9 L255.6,255.6 L256.4,255.2 L257.2,254.9 L258.0,254.5 L258.8,254.2 L259.6,253.8 L260.4,253.4 L261.2,253.1 L262.0,252.7 L262.8,252.3 L263.6,251.9 L264.4,251.5 L265.2,251.0 L265.9,250.6 L266.7,250.2 L267.5,249.7 L268.3,249.2 L269.0,248.7 L269.7,248.2 L270.5,247.6 L271.2,247.0 L271.9,246.4 L272.5,245.8 L273.2,245.2 L273.8,244.6 L274.4,243.9 L275.0,243.2 L275.5,242.5 L276.0,241.8 L276.5,241.1 L277.0,240.4 L277.4,239.6 L277.9,238.9 L278.3,238.1 L278.7,237.3 L279.1,236.5 L279.4,235.7 L279.7,234.9 L280.1,234.1 L280.4,233.2 L280.7,232.4 L281.0,231.6 L281.2,230.7 L281.5,229.9 L281.7,229.0 L282.0,228.1 L282.2,227.3 L282.5,226.4 L282.7,225.5 L282.9,224.7 L283.2,223.8 L283.4,222.9 L283.6,222.1 L283.8,221.2 L284.0,220.3 L284.3,219.5 L284.5,218.6 L284.7,217.7 L284.9,216.9 L285.1,216.0 L285.3,215.1 L285.5,214.2 L285.7,213.4 L285.9,212.5 L286.1,211.6 L286.3,210.8 L286.5,209.9 L286.7,209.0 L286.9,208.1 L287.1,207.3 L287.2,206.4 L287.4,205.5 L287.6,204.7 L287.8,203.8 L288.0,202.9 L288.1,202.0 L288.3,201.2 L288.5,200.3 L288.7,199.4 L288.8,198.6 L289.0,197.7 L289.2,196.8 L289.3,195.9 L289.5,195.1 L289.7,194.2 L289.8,193.3 L290.0,192.4 L290.2,191.6 L290.3,190.7 L290.5,189.8 L290.6,188.9 L290.8,188.1 L290.9,187.2 L291.1,186.3 L291.3,185.4 L291.4,184.6 L291.6,183.7 L291.7,182.8 L291.9,181.9 L292.0,181.1 L292.2,180.2 L292.3,179.3 L292.5,178.4 L292.6,177.6 L292.7,176.7 L292.9,175.8 L293.0,174.9 L293.2,174.1 L293.3,173.2 L293.5,172.3 L293.6,171.4 L293.7,170.5 L293.9,169.7 L294.0,168.8 L294.2,167.9 L294.3,167.0 L294.4,166.2 L294.6,165.3 L294.7,164.4 L294.9,163.5 L295.0,162.7 L295.1,161.8 L295.3,160.9 L295.4,160.0 L295.6,159.1 L295.7,158.3 L295.8,157.4 L296.0,156.5 L296.1,155.6 L296.3,154.8 L296.4,153.9 L296.5,153.0 L296.7,152.1 L296.8,151.2 L297.0,150.4 L297.1,149.5 L297.2,148.6 L297.4,147.7 L297.5,146.9 L297.7,146.0 L297.8,145.1 L298.0,144.2 L298.1,143.3 L298.2,142.5 L298.4,141.6 L298.5,140.7 L298.7,139.8 L298.8,139.0 L299.0,138.1 L299.1,137.2 L299.3,136.3 L299.4,135.5 L299.6,134.6 L299.7,133.7 L299.9,132.8 L300.0,132.0 L300.2,131.1 L300.3,130.2 L300.5,129.3 L300.6,128.5 L300.8,127.6 L301.0,126.7 L301.1,125.8 L301.3,125.0 L301.5,124.1 L301.6,123.2 L301.8,122.3 L301.9,121.5 L302.1,120.6 L302.3,119.7 L302.5,118.9 L302.6,118.0 L302.8,117.1 L303.0,116.2 L303.2,115.4 L303.3,114.5 L303.5,113.6 L303.7,112.8 L303.9,111.9 L304.1,111.0 L304.2,110.1 L304.4,109.3 L304.6,108.4 L304.8,107.5 L305.0,106.7 L305.2,105.8 L305.4,104.9 L305.6,104.1 L305.8,103.2 L306.0,102.3 L306.2,101.5 L306.4,100.6 L306.6,99.7 L306.8,98.9 L307.0,98.0 L307.3,97.2 L307.5,96.3 L307.7,95.4 L307.9,94.6 L308.1,93.7 L308.4,92.8 L308.6,92.0 L308.8,91.1 L309.1,90.3 L309.3,89.4 L309.5,88.5 L309.8,87.7 L310.0,86.8 L310.3,86.0 L310.5,85.1 L310.8,84.3 L311.0,83.4 L311.3,82.5 L311.5,81.7 L311.8,80.8 L312.0,80.0 L312.3,79.1 L312.6,78.3 L312.9,77.4 L313.1,76.6 L313.4,75.7 L313.7,74.9 L314.0,74.0 L314.3,73.2 L314.5,72.3 L314.8,71.5 L315.1,70.6 L315.4,69.8 L315.7,68.9 L316.0,68.1 L316.4,67.2 L316.7,66.4 L317.0,65.6 L317.3,64.7 L317.7,63.9 L318.0,63.1 L318.4,62.3 L318.7,61.5 L319.1,60.6 L319.5,59.8 L319.9,59.1 L320.3,58.3 L320.7,57.5 L321.2,56.7 L321.6,56.0 L322.1,55.2 L322.6,54.5 L323.1,53.8 L323.6,53.1 L324.1,52.4 L324.7,51.7 L325.3,51.1 L325.9,50.4 L326.5,49.8 L327.1,49.2 L327.8,48.6 L328.5,48.0 L329.2,47.4 L330.0,46.9 L330.7,46.3 L331.5,45.9 L332.3,45.4 L333.1,45.0 L334.0,44.7 L334.8,44.5 L335.7,44.4 L336.5,44.3 L337.4,44.4 L338.3,44.6 L339.1,44.8 L339.9,45.2 L340.7,45.6 L341.4,46.1 L342.1,46.7 L342.8,47.3 L343.4,48.0 L344.0,48.6 L344.5,49.4 L345.0,50.1 L345.5,50.9 L346.0,51.7 L346.4,52.5 L346.9,53.4 L347.3,54.2 L347.7,55.0 L348.1,55.8 L348.5,56.6 L348.9,57.4 L349.3,58.2 L349.7,59.0 L350.0,59.8 L350.4,60.6 L350.8,61.4 L351.2,62.2 L351.5,63.0 L351.9,63.8 L352.2,64.6 L352.6,65.4 L353.0,66.2 L353.3,67.0 L353.7,67.8 L354.0,68.6 L354.4,69.5 L354.7,70.3 L355.1,71.1 L355.4,71.9 L355.8,72.7 L356.1,73.6 L356.5,74.4 L356.8,75.2 L357.2,76.0 L357.5,76.9 L357.8,77.7 L358.2,78.5 L358.5,79.4 L358.9,80.2 L359.2,81.0 L359.5,81.8 L359.9,82.7 L360.2,83.5 L360.6,84.3 L360.9,85.2 L361.2,86.0 L361.6,86.8 L361.9,87.6 L362.3,88.5 L362.6,89.3 L362.9,90.1 L363.3,90.9 L363.6,91.8 L363.9,92.6 L364.3,93.4 L364.6,94.2 L365.0,95.1 L365.3,95.9 L365.6,96.7 L366.0,97.5 L366.3,98.3 L366.7,99.2 L367.0,100.0 L367.3,100.8 L367.7,101.6 L368.0,102.4 L368.4,103.2 L368.7,104.1 L369.1,104.9 L369.4,105.7 L369.8,106.5 L370.1,107.3 L370.4,108.1 L370.8,109.0 L371.1,109.8 L371.5,110.6 L371.8,111.4 L372.2,112.2 L372.5,113.0 L372.9,113.8 L373.2,114.6 L373.6,115.5 L373.9,116.3 L374.3,117.1 L374.7,117.9 L375.0,118.7 L375.4,119.5 L375.7,120.3 L376.1,121.1 L376.4,121.9 L376.8,122.7 L377.2,123.5 L377.5,124.3 L377.9,125.2 L378.3,126.0 L378.6,126.8 L379.0,127.6 L379.4,128.4 L379.7,129.2 L380.1,130.0 L380.5,130.8 L380.8,131.6 L381.2,132.4 L381.6,133.2 L382.0,134.0 L382.4,134.8 L382.7,135.6 L383.1,136.4 L383.5,137.2 L383.9,138.0 L384.3,138.8 L384.7,139.6 L385.0,140.4 L385.4,141.2 L385.8,142.0 L386.2,142.8 L386.6,143.6 L387.0,144.4 L387.4,145.3 L387.8,146.1 L388.2,146.9 L388.6,147.7 L389.0,148.5 L389.4,149.3 L389.8,150.1 L390.2,150.9 L390.7,151.6 L391.1,152.4 L391.5,153.2 L391.9,154.0 L392.3,154.8 L392.8,155.6 L393.2,156.4 L393.6,157.2 L394.1,158.0 L394.5,158.8 L395.0,159.5 L395.4,160.3 L395.8,161.1 L396.3,161.9 L396.8,162.6 L397.2,163.4 L397.7,164.2 L398.2,164.9 L398.6,165.7 L399.1,166.4 L399.6,167.2 L400.1,167.9 L400.6,168.7 L401.1,169.4 L401.6,170.1 L402.1,170.9 L402.6,171.6 L403.1,172.3 L403.6,173.0 L404.1,173.8 L404.7,174.5 L405.2,175.2 L405.7,175.9 L406.3,176.6 L406.8,177.3 L407.4,177.9 L408.0,178.6 L408.5,179.3 L409.1,180.0 L409.7,180.6 L410.3,181.3 L410.9,181.9 L411.5,182.6 L412.1,183.2 L412.7,183.8 L413.3,184.5 L413.9,185.1 L414.6,185.7 L415.2,186.3 L415.8,186.9 L416.5,187.5 L417.2,188.1 L417.8,188.6 L418.5,189.2 L419.2,189.8 L419.9,190.3 L420.6,190.9 L421.3,191.4 L422.0,192.0 L422.7,192.5 L423.4,193.0 L424.1,193.5 L424.9,194.1 L425.6,194.6 L426.3,195.1 L427.1,195.6 L427.8,196.1 L428.5,196.6 L429.3,197.2 L430.0,197.7 L430.7,198.2 L431.5,198.7 L432.2,199.2 L432.9,199.7 L433.6,200.3 L434.4,200.8 L435.1,201.3 L435.8,201.8 L436.5,202.3 L437.3,202.9 L438.0,203.4 L438.7,203.9 L439.4,204.4 L440.2,204.9 L440.9,205.4 L441.6,205.9 L442.4,206.4 L443.1,206.9 L443.8,207.4 L444.6,207.9 L445.3,208.4 L446.1,208.8 L446.8,209.3 L447.6,209.7 L448.4,210.2 L449.1,210.6 L449.9,211.1 L450.7,211.5 L451.5,211.9 L452.2,212.3 L453.0,212.7 L453.8,213.1 L454.6,213.5 L455.4,213.9 L456.2,214.3 L457.0,214.7 L457.8,215.1 L458.6,215.4 L459.4,215.8 L460.2,216.2 L461.0,216.5 L461.8,216.9 L462.6,217.2 L463.5,217.6 L464.3,217.9 L465.1,218.2 L465.9,218.6 L466.7,218.9 L467.6,219.2 L468.4,219.5 L469.2,219.8 L470.1,220.2 L470.9,220.5 L471.7,220.8 L472.6,221.1 L473.4,221.4 L474.3,221.7 L475.1,222.0 L475.9,222.3 L476.8,222.6 L477.6,222.9 L478.5,223.2 L479.3,223.5 L480.2,223.7 L481.0,224.0 L481.9,224.3 L482.7,224.6 L483.6,224.9 L484.4,225.1 L485.3,225.4 L486.2,225.7 L487.0,225.9 L487.9,226.2 L488.7,226.4 L489.6,226.7 L490.4,226.9 L491.3,227.2 L492.2,227.4 L493.0,227.6 L493.9,227.8 L494.8,228.0 L495.6,228.3 L496.5,228.5 L497.4,228.6 L498.2,228.8 L499.1,229.0 L500.0,229.2 L500.8,229.3 L501.7,229.5 L502.6,229.6 L503.5,229.8 L504.3,229.9 L505.2,230.0 L506.1,230.1 L506.9,230.2 L507.8,230.3 L508.7,230.4 L509.6,230.4 L510.5,230.5 L511.3,230.5 L512.2,230.6 L513.1,230.6 L514.0,230.6 L514.8,230.6 L515.7,230.6 L516.6,230.6 L517.5,230.5 L518.4,230.5 L519.3,230.4 L520.1,230.3 L521.0,230.3 L521.9,230.2 L522.8,230.0 L523.7,229.9 L524.6,229.8 L525.4,229.6 L526.3,229.4 L527.2,229.2 L528.1,229.0 L529.0,228.8 L529.9,228.5 L530.8,228.3 L531.6,228.0"/>
<path stroke="#000000" d="M76.5,277.6 L77.5,277.6 L78.5,277.6 L79.4,277.6 L80.4,277.6 L81.3,277.6 L82.3,277.4 L83.2,277.2 L84.1,277.0 L85.0,276.7 L85.9,276.4 L86.8,276.0 L87.7,275.7 L88.6,275.3 L89.5,274.9 L90.4,274.5 L91.3,274.2 L92.2,273.8 L93.1,273.4 L94.0,273.1 L94.9,272.8 L95.8,272.5 L96.7,272.2 L97.6,272.0 L98.6,271.9 L99.5,271.7 L100.5,271.6 L101.4,271.5 L102.4,271.4 L103.3,271.4 L104.3,271.3 L105.3,271.3 L106.2,271.2 L107.2,271.1 L108.2,271.1 L109.1,271.0 L110.1,271.0 L111.1,270.9 L112.0,270.8 L113.0,270.8 L114.0,270.7 L114.9,270.7 L115.9,270.6 L116.8,270.5 L117.8,270.5 L118.8,270.4 L119.7,270.4 L120.7,270.3 L121.6,270.3 L122.6,270.2 L123.6,270.2 L124.5,270.1 L125.5,270.1 L126.4,270.0 L127.4,270.0 L128.3,270.0 L129.3,270.0 L130.3,270.0 L131.2,269.9 L132.2,269.9 L133.1,269.9 L134.1,269.9 L135.1,269.9 L136.0,270.0 L137.0,270.0 L137.9,270.0 L138.9,270.0 L139.9,270.0 L140.8,270.1 L141.8,270.1 L142.7,270.1 L143.7,270.2 L144.7,270.2 L145.6,270.3 L146.6,270.3 L147.5,270.4 L148.5,270.4 L149.5,270.5 L150.4,270.5 L151.4,270.6 L152.4,270.7 L153.3,270.7 L154.3,270.8 L155.2,270.8 L156.2,270.9 L157.2,271.0 L158.1,271.0 L159.1,271.1 L160.0,271.2 L161.0,271.2 L162.0,271.3 L162.9,271.4 L163.9,271.4 L164.8,271.5 L165.8,271.6 L166.8,271.6 L167.7,271.7 L168.7,271.7 L169.7,271.8 L170.6,271.8 L171.6,271.9 L172.5,271.9 L173.5,272.0 L174.5,272.0 L175.4,272.1 L176.4,272.1 L177.4,272.2 L178.3,272.2 L179.3,272.2 L180.2,272.2 L181.2,272.3 L182.2,272.3 L183.1,272.3 L184.1,272.3 L185.0,272.3 L186.0,272.3 L187.0,272.3 L187.9,272.3 L188.9,272.3 L189.9,272.3 L190.8,272.2 L191.8,272.2 L192.7,272.2 L193.7,272.1 L194.7,272.1 L195.6,272.0 L196.6,272.0 L197.5,271.9 L198.5,271.8 L199.5,271.7 L200.4,271.6 L201.4,271.5 L202.3,271.4 L203.3,271.3 L204.2,271.2 L205.2,271.1 L206.2,271.0 L207.1,270.8 L208.1,270.7 L209.0,270.6 L210.0,270.4 L210.9,270.2 L211.9,270.1 L212.8,269.9 L213.7,269.7 L214.7,269.5 L215.6,269.3 L216.6,269.1 L217.5,268.9 L218.4,268.7 L219.4,268.4 L220.3,268.2 L221.2,268.0 L222.2,267.7 L223.1,267.5 L224.0,267.2 L224.9,266.9 L225.8,266.7 L226.7,266.4 L227.7,266.1 L228.6,265.8 L229.5,265.5 L230.4,265.1 L231.3,264.8 L232.2,264.5 L233.1,264.1 L234.0,263.8 L234.8,263.4 L235.7,263.1 L236.6,262.7 L237.5,262.3 L238.4,261.9 L239.2,261.5 L240.1,261.1 L241.0,260.7 L241.8,260.3 L242.7,259.8 L243.5,259.4 L244.4,259.0 L245.2,258.5 L246.1,258.0 L246.9,257.6 L247.7,257.1 L248.6,256.6 L249.4,256.2 L250.3,255.7 L251.1,255.2 L251.9,254.7 L252.8,254.2 L253.6,253.7 L254.4,253.2 L255.3,252.7 L256.1,252.2 L256.9,251.7 L257.8,251.2 L258.6,250.7 L259.4,250.2 L260.3,249.7 L261.1,249.2 L262.0,248.7 L262.8,248.2 L263.7,247.7 L264.5,247.3 L265.4,246.8 L266.2,246.2 L267.0,245.7 L267.8,245.2 L268.6,244.6 L269.3,244.0 L270.1,243.4 L270.7,242.7 L271.4,242.1 L272.0,241.3 L272.5,240.6 L273.1,239.9 L273.6,239.1 L274.1,238.3 L274.6,237.5 L275.0,236.6 L275.4,235.8 L275.8,234.9 L276.2,234.0 L276.6,233.1 L277.0,232.2 L277.3,231.3 L277.6,230.3 L277.9,229.4 L278.2,228.5 L278.5,227.5 L278.8,226.6 L279.1,225.6 L279.3,224.7 L279.6,223.7 L279.9,222.8 L280.1,221.8 L280.4,220.9 L280.6,219.9 L280.9,219.0 L281.1,218.0 L281.4,217.1 L281.6,216.2 L281.8,215.2 L282.1,214.3 L282.3,213.3 L282.5,212.4 L282.7,211.5 L282.9,210.5 L283.1,209.6 L283.3,208.6 L283.6,207.7 L283.8,206.8 L283.9,205.8 L284.1,204.9 L284.3,203.9 L284.5,203.0 L284.7,202.1 L284.9,201.1 L285.1,200.2 L285.3,199.3 L285.4,198.3 L285.6,197.4 L285.8,196.4 L285.9,195.5 L286.1,194.6 L286.3,193.6 L286.4,192.7 L286.6,191.8 L286.8,190.8 L286.9,189.9 L287.1,188.9 L287.2,188.0 L287.4,187.1 L287.5,186.1 L287.7,185.2 L287.8,184.2 L288.0,183.3 L288.1,182.3 L288.3,181.4 L288.4,180.5 L288.6,179.5 L288.7,178.6 L288.8,177.6 L289.0,176.7 L289.1,175.7 L289.3,174.8 L289.4,173.8 L289.5,172.9 L289.7,171.9 L289.8,171.0 L289.9,170.0 L290.1,169.1 L290.2,168.1 L290.4,167.2 L290.5,166.2 L290.6,165.3 L290.8,164.3 L290.9,163.4 L291.0,162.4 L291.1,161.4 L291.3,160.5 L291.4,159.5 L291.5,158.6 L291.7,157.6 L291.8,156.7 L291.9,155.7 L292.1,154.7 L292.2,153.8 L292.3,152.8 L292.4,151.9 L292.6,150.9 L292.7,149.9 L292.8,149.0 L293.0,148.0 L293.1,147.1 L293.2,146.1 L293.3,145.2 L293.5,144.2 L293.6,143.2 L293.7,142.3 L293.8,141.3 L294.0,140.4 L294.1,139.4 L294.2,138.5 L294.4,137.5 L294.5,136.5 L294.6,135.6 L294.7,134.6 L294.9,133.7 L295.0,132.7 L295.1,131.8 L295.2,130.8 L295.4,129.9 L295.5,128.9 L295.6,128.0 L295.8,127.0 L295.9,126.1 L296.0,125.1 L296.2,124.2 L296.3,123.2 L296.4,122.2 L296.6,121.3 L296.7,120.3 L296.8,119.4 L297.0,118.4 L297.1,117.5 L297.2,116.5 L297.4,115.6 L297.5,114.6 L297.7,113.7 L297.8,112.7 L297.9,111.8 L298.1,110.9 L298.2,109.9 L298.4,109.0 L298.5,108.0 L298.7,107.1 L298.8,106.1 L299.0,105.2 L299.1,104.2 L299.3,103.3 L299.4,102.3 L299.6,101.4 L299.7,100.4 L299.9,99.5 L300.0,98.5 L300.2,97.6 L300.4,96.7 L300.5,95.7 L300.7,94.8 L300.9,93.8 L301.0,92.9 L301.2,91.9 L301.4,91.0 L301.6,90.1 L301.7,89.1 L301.9,88.2 L302.1,87.2 L302.3,86.3 L302.4,85.3 L302.6,84.4 L302.8,83.5 L303.0,82.5 L303.2,81.6 L303.4,80.6 L303.6,79.7 L303.8,78.8 L304.0,77.8 L304.2,76.9 L304.4,76.0 L304.6,75.0 L304.8,74.1 L305.0,73.1 L305.2,72.2 L305.4,71.3 L305.6,70.3 L305.9,69.4 L306.1,68.5 L306.3,67.5 L306.5,66.6 L306.8,65.7 L307.0,64.7 L307.2,63.8 L307.5,62.9 L307.7,61.9 L307.9,61.0 L308.2,60.1 L308.4,59.1 L308.7,58.2 L308.9,57.3 L309.2,56.3 L309.5,55.4 L309.7,54.5 L310.0,53.5 L310.2,52.6 L310.5,51.7 L310.8,50.7 L311.1,49.8 L311.4,48.9 L311.6,47.9 L311.9,47.0 L312.2,46.1 L312.5,45.2 L312.8,44.2 L313.1,43.3 L313.4,42.4 L313.7,41.5 L314.0,40.5 L314.3,39.6 L314.6,38.7 L315.0,37.7 L315.3,36.8 L315.6,35.9 L316.0,35.0 L316.3,34.1 L316.7,33.2 L317.1,32.3 L317.4,31.4 L317.8,30.5 L318.2,29.7 L318.7,28.8 L319.1,28.0 L319.6,27.1 L320.0,26.3 L320.5,25.5 L321.1,24.7 L321.6,24.0 L322.2,23.2 L322.7,22.5 L323.3,21.8 L324.0,21.1 L324.6,20.4 L325.3,19.7 L326.0,19.1 L326.8,18.5 L327.5,17.9 L328.3,17.4 L329.2,16.9 L330.0,16.4 L330.9,16.0 L331.8,15.6 L332.7,15.4 L333.6,15.2 L334.6,15.1 L335.5,15.2 L336.4,15.4 L337.4,15.7 L338.2,16.0 L339.1,16.5 L339.9,17.1 L340.7,17.7 L341.3,18.4 L342.0,19.1 L342.6,19.9 L343.1,20.8 L343.6,21.6 L344.1,22.5 L344.5,23.4 L345.0,24.3 L345.4,25.2 L345.8,26.1 L346.2,27.0 L346.6,27.9 L347.0,28.7 L347.3,29.6 L347.7,30.5 L348.1,31.4 L348.4,32.3 L348.8,33.2 L349.1,34.1 L349.4,35.0 L349.8,35.9 L350.1,36.8 L350.5,37.7 L350.8,38.5 L351.1,39.4 L351.5,40.3 L351.8,41.2 L352.1,42.1 L352.5,43.0 L352.8,43.9 L353.1,44.8 L353.4,45.7 L353.7,46.6 L354.1,47.5 L354.4,48.4 L354.7,49.3 L355.0,50.2 L355.3,51.2 L355.7,52.1 L356.0,53.0 L356.3,53.9 L356.6,54.8 L356.9,55.7 L357.2,56.6 L357.5,57.5 L357.9,58.4 L358.2,59.3 L358.5,60.2 L358.8,61.1 L359.1,62.0 L359.4,62.9 L359.7,63.9 L360.0,64.8 L360.3,65.7 L360.6,66.6 L361.0,67.5 L361.3,68.4 L361.6,69.3 L361.9,70.2 L362.2,71.1 L362.5,72.1 L362.8,73.0 L363.1,73.9 L363.4,74.8 L363.7,75.7 L364.0,76.6 L364.3,77.5 L364.6,78.5 L365.0,79.4 L365.3,80.3 L365.6,81.2 L365.9,82.1 L366.2,83.0 L366.5,83.9 L366.8,84.8 L367.1,85.8 L367.4,86.7 L367.7,87.6 L368.1,88.5 L368.4,89.4 L368.7,90.3 L369.0,91.2 L369.3,92.1 L369.6,93.1 L369.9,94.0 L370.2,94.9 L370.6,95.8 L370.9,96.7 L371.2,97.6 L371.5,98.5 L371.8,99.4 L372.2,100.3 L372.5,101.2 L372.8,102.2 L373.1,103.1 L373.4,104.0 L373.8,104.9 L374.1,105.8 L374.4,106.7 L374.7,107.6 L375.1,108.5 L375.4,109.4 L375.7,110.3 L376.1,111.2 L376.4,112.1 L376.7,113.0 L377.1,113.9 L377.4,114.8 L377.7,115.7 L378.1,116.6 L378.4,117.5 L378.8,118.4 L379.1,119.3 L379.5,120.2 L379.8,121.1 L380.2,122.0 L380.5,122.9 L380.9,123.8 L381.2,124.7 L381.6,125.6 L381.9,126.5 L382.3,127.4 L382.6,128.3 L383.0,129.2 L383.4,130.1 L383.7,130.9 L384.1,131.8 L384.5,132.7 L384.8,133.6 L385.2,134.5 L385.6,135.4 L386.0,136.3 L386.3,137.1 L386.7,138.0 L387.1,138.9 L387.5,139.8 L387.9,140.7 L388.3,141.5 L388.7,142.4 L389.1,143.3 L389.5,144.2 L389.9,145.0 L390.3,145.9 L390.7,146.8 L391.1,147.7 L391.5,148.5 L391.9,149.4 L392.3,150.3 L392.7,151.1 L393.1,152.0 L393.5,152.8 L394.0,153.7 L394.4,154.6 L394.8,155.4 L395.3,156.3 L395.7,157.1 L396.1,158.0 L396.6,158.8 L397.0,159.7 L397.5,160.5 L397.9,161.4 L398.4,162.2 L398.8,163.1 L399.3,163.9 L399.7,164.8 L400.2,165.6 L400.7,166.5 L401.1,167.3 L401.6,168.1 L402.1,169.0 L402.6,169.8 L403.0,170.6 L403.5,171.5 L404.0,172.3 L404.5,173.1 L405.0,174.0 L405.5,174.8 L406.0,175.6 L406.5,176.4 L407.0,177.2 L407.5,178.0 L408.0,178.9 L408.6,179.7 L409.1,180.5 L409.6,181.3 L410.1,182.1 L410.7,182.9 L411.2,183.7 L411.8,184.5 L412.3,185.3 L412.9,186.0 L413.4,186.8 L414.0,187.6 L414.6,188.4 L415.1,189.1 L415.7,189.9 L416.3,190.7 L416.9,191.4 L417.5,192.2 L418.1,192.9 L418.7,193.7 L419.3,194.4 L419.9,195.2 L420.6,195.9 L421.2,196.6 L421.8,197.3 L422.5,198.0 L423.1,198.8 L423.8,199.5 L424.4,200.2 L425.1,200.9 L425.8,201.5 L426.4,202.2 L427.1,202.9 L427.8,203.6 L428.5,204.2 L429.2,204.9 L429.9,205.5 L430.7,206.2 L431.4,206.8 L432.1,207.4 L432.9,208.1 L433.6,208.7 L434.4,209.3 L435.1,209.9 L435.9,210.5 L436.7,211.0 L437.5,211.6 L438.2,212.2 L439.0,212.7 L439.8,213.3 L440.7,213.8 L441.5,214.3 L442.3,214.8 L443.1,215.3 L444.0,215.7 L444.8,216.2 L445.7,216.6 L446.5,217.1 L447.4,217.5 L448.3,217.9 L449.2,218.3 L450.0,218.6 L450.9,219.0 L451.8,219.3 L452.7,219.7 L453.6,220.0 L454.5,220.3 L455.4,220.7 L456.3,221.0 L457.2,221.3 L458.1,221.6 L459.0,222.0 L459.9,222.3 L460.8,222.6 L461.7,222.9 L462.6,223.2 L463.5,223.5 L464.4,223.8 L465.3,224.1 L466.3,224.4 L467.2,224.7 L468.1,225.0 L469.0,225.3 L469.9,225.6 L470.8,225.9 L471.7,226.1 L472.7,226.4 L473.6,226.7 L474.5,226.9 L475.4,227.2 L476.4,227.4 L477.3,227.7 L478.2,227.9 L479.2,228.1 L480.1,228.4 L481.0,228.6 L482.0,228.8 L482.9,229.0 L483.8,229.2 L484.8,229.4 L485.7,229.6 L486.7,229.8 L487.6,230.0 L488.6,230.2 L489.5,230.4 L490.4,230.6 L491.4,230.7 L492.3,230.9 L493.3,231.0 L494.2,231.2 L495.2,231.3 L496.2,231.5 L497.1,231.6 L498.1,231.8 L499.0,231.9 L500.0,232.0 L500.9,232.1 L501.9,232.2 L502.8,232.3 L503.8,232.4 L504.8,232.5 L505.7,232.6 L506.7,232.7 L507.6,232.8 L508.6,232.9 L509.6,232.9 L510.5,233.0 L511.5,233.1 L512.4,233.1 L513.4,233.2 L514.4,233.2 L515.3,233.2 L516.3,233.3 L517.2,233.3 L518.2,233.3 L519.2,233.3 L520.1,233.4 L521.1,233.4 L522.0,233.4 L523.0,233.3 L523.9,233.3 L524.9,233.3 L525.9,233.3 L526.8,233.3 L527.8,233.2 L528.7,233.2 L529.7,233.1 L530.6,233.1 L531.6,233.0"/>
</g>
<g fill="none" stroke-width="1.25">
<path stroke="#ED7D31" d="M89.8,72.3H107"/>
<path stroke="#FFC000" d="M89.8,87.55H107"/>
<path stroke="#CC0505" d="M89.8,103.3H107"/>
<path stroke="#1E7BD3" d="M89.8,118.55H107"/>
<path stroke="#00B050" d="M89.8,134.3H107"/>
<path stroke="#000000" d="M89.8,149.55H107"/>
</g>
<g font-family="'Liberation Serif', serif" fill="#161616" stroke="#161616" stroke-width="0.12">
<text transform="translate(108.7,75.9) scale(0.98,1)" text-anchor="start" font-size="12.5">65</text>
<text transform="translate(108.7,91.1) scale(0.98,1)" text-anchor="start" font-size="12.5">50</text>
<text transform="translate(108.7,106.9) scale(0.98,1)" text-anchor="start" font-size="12.5">40</text>
<text transform="translate(108.7,122.1) scale(0.98,1)" text-anchor="start" font-size="12.5">30</text>
<text transform="translate(108.7,137.9) scale(0.98,1)" text-anchor="start" font-size="12.5">20</text>
<text transform="translate(108.7,153.2) scale(0.98,1)" text-anchor="start" font-size="12.5">0</text>
<text transform="translate(42.9,282.7) scale(0.97,1)" text-anchor="end" font-size="13.8">0</text>
<text transform="translate(42.9,256.4) scale(0.97,1)" text-anchor="end" font-size="13.8">0.1</text>
<text transform="translate(42.9,230.1) scale(0.97,1)" text-anchor="end" font-size="13.8">0.2</text>
<text transform="translate(42.9,203.8) scale(0.97,1)" text-anchor="end" font-size="13.8">0.3</text>
<text transform="translate(42.9,177.5) scale(0.97,1)" text-anchor="end" font-size="13.8">0.4</text>
<text transform="translate(42.9,151.2) scale(0.97,1)" text-anchor="end" font-size="13.8">0.5</text>
<text transform="translate(42.9,125.0) scale(0.97,1)" text-anchor="end" font-size="13.8">0.6</text>
<text transform="translate(42.9,98.7) scale(0.97,1)" text-anchor="end" font-size="13.8">0.7</text>
<text transform="translate(42.9,72.4) scale(0.97,1)" text-anchor="end" font-size="13.8">0.8</text>
<text transform="translate(42.9,46.1) scale(0.97,1)" text-anchor="end" font-size="13.8">0.9</text>
<text transform="translate(42.9,19.8) scale(0.97,1)" text-anchor="end" font-size="13.8">1</text>
<text transform="translate(56.9,302.1) scale(0.99,1)" text-anchor="middle" font-size="13.8">1100</text>
<text transform="translate(136.0,302.1) scale(0.99,1)" text-anchor="middle" font-size="13.8">1200</text>
<text transform="translate(215.0,302.1) scale(0.99,1)" text-anchor="middle" font-size="13.8">1300</text>
<text transform="translate(294.1,302.1) scale(0.99,1)" text-anchor="middle" font-size="13.8">1400</text>
<text transform="translate(373.2,302.1) scale(0.99,1)" text-anchor="middle" font-size="13.8">1500</text>
<text transform="translate(452.2,302.1) scale(0.99,1)" text-anchor="middle" font-size="13.8">1600</text>
<text transform="translate(531.3,302.1) scale(0.99,1)" text-anchor="middle" font-size="13.8">1700</text>
<text x="274.4" y="325.1" font-size="15.6" font-style="italic">λ</text>
<text transform="translate(284.7,325.2) scale(1.2,1)" text-anchor="start" font-size="16.2">/</text>
<text transform="translate(294.2,325.0) scale(1.21,1)" text-anchor="start" font-size="14.5">nm</text>
<text transform="translate(17.2,164.9) rotate(-90) scale(0.86,1)" font-size="15.4">A</text>
<text transform="translate(17.2,154.8) rotate(-90)" font-size="15.4" font-style="italic">λ</text>
<text transform="translate(17.2,140.0) rotate(-90)" font-size="16">/</text>
<text transform="translate(17.2,130.8) rotate(-90)" font-size="16">-</text>
</g>
<g font-family="'Liberation Serif', serif" font-weight="bold" font-style="italic" fill="#111" stroke="#111" stroke-width="0.4">
<text x="68.8" y="39.2" font-size="13.5">ω</text>
<text x="77.7" y="40.7" font-size="8.6">g</text>
<text x="96" y="30.6" font-size="13.2">g</text>
<text x="103.2" y="32" font-size="9" letter-spacing="1.15">glyc</text>
<text x="96" y="45.5" font-size="13.2">g</text>
<text x="103.2" y="47.2" font-size="9" letter-spacing="0.75">total</text>
<text x="125.4" y="38.5" font-size="12.3" font-style="normal">·</text>
<text x="132.2" y="38.5" font-size="12.3" font-style="normal" letter-spacing="0">100%</text>
</g>
<g fill="none" stroke="#111" stroke-width="1">
<path d="M95.8,35H123"/>
<path d="M94.8,23.9H92.4V47.4H94.8"/>
<path d="M163.2,23.9H165.6V47.4H163.2"/>
</g>
</svg>
</body></html>
